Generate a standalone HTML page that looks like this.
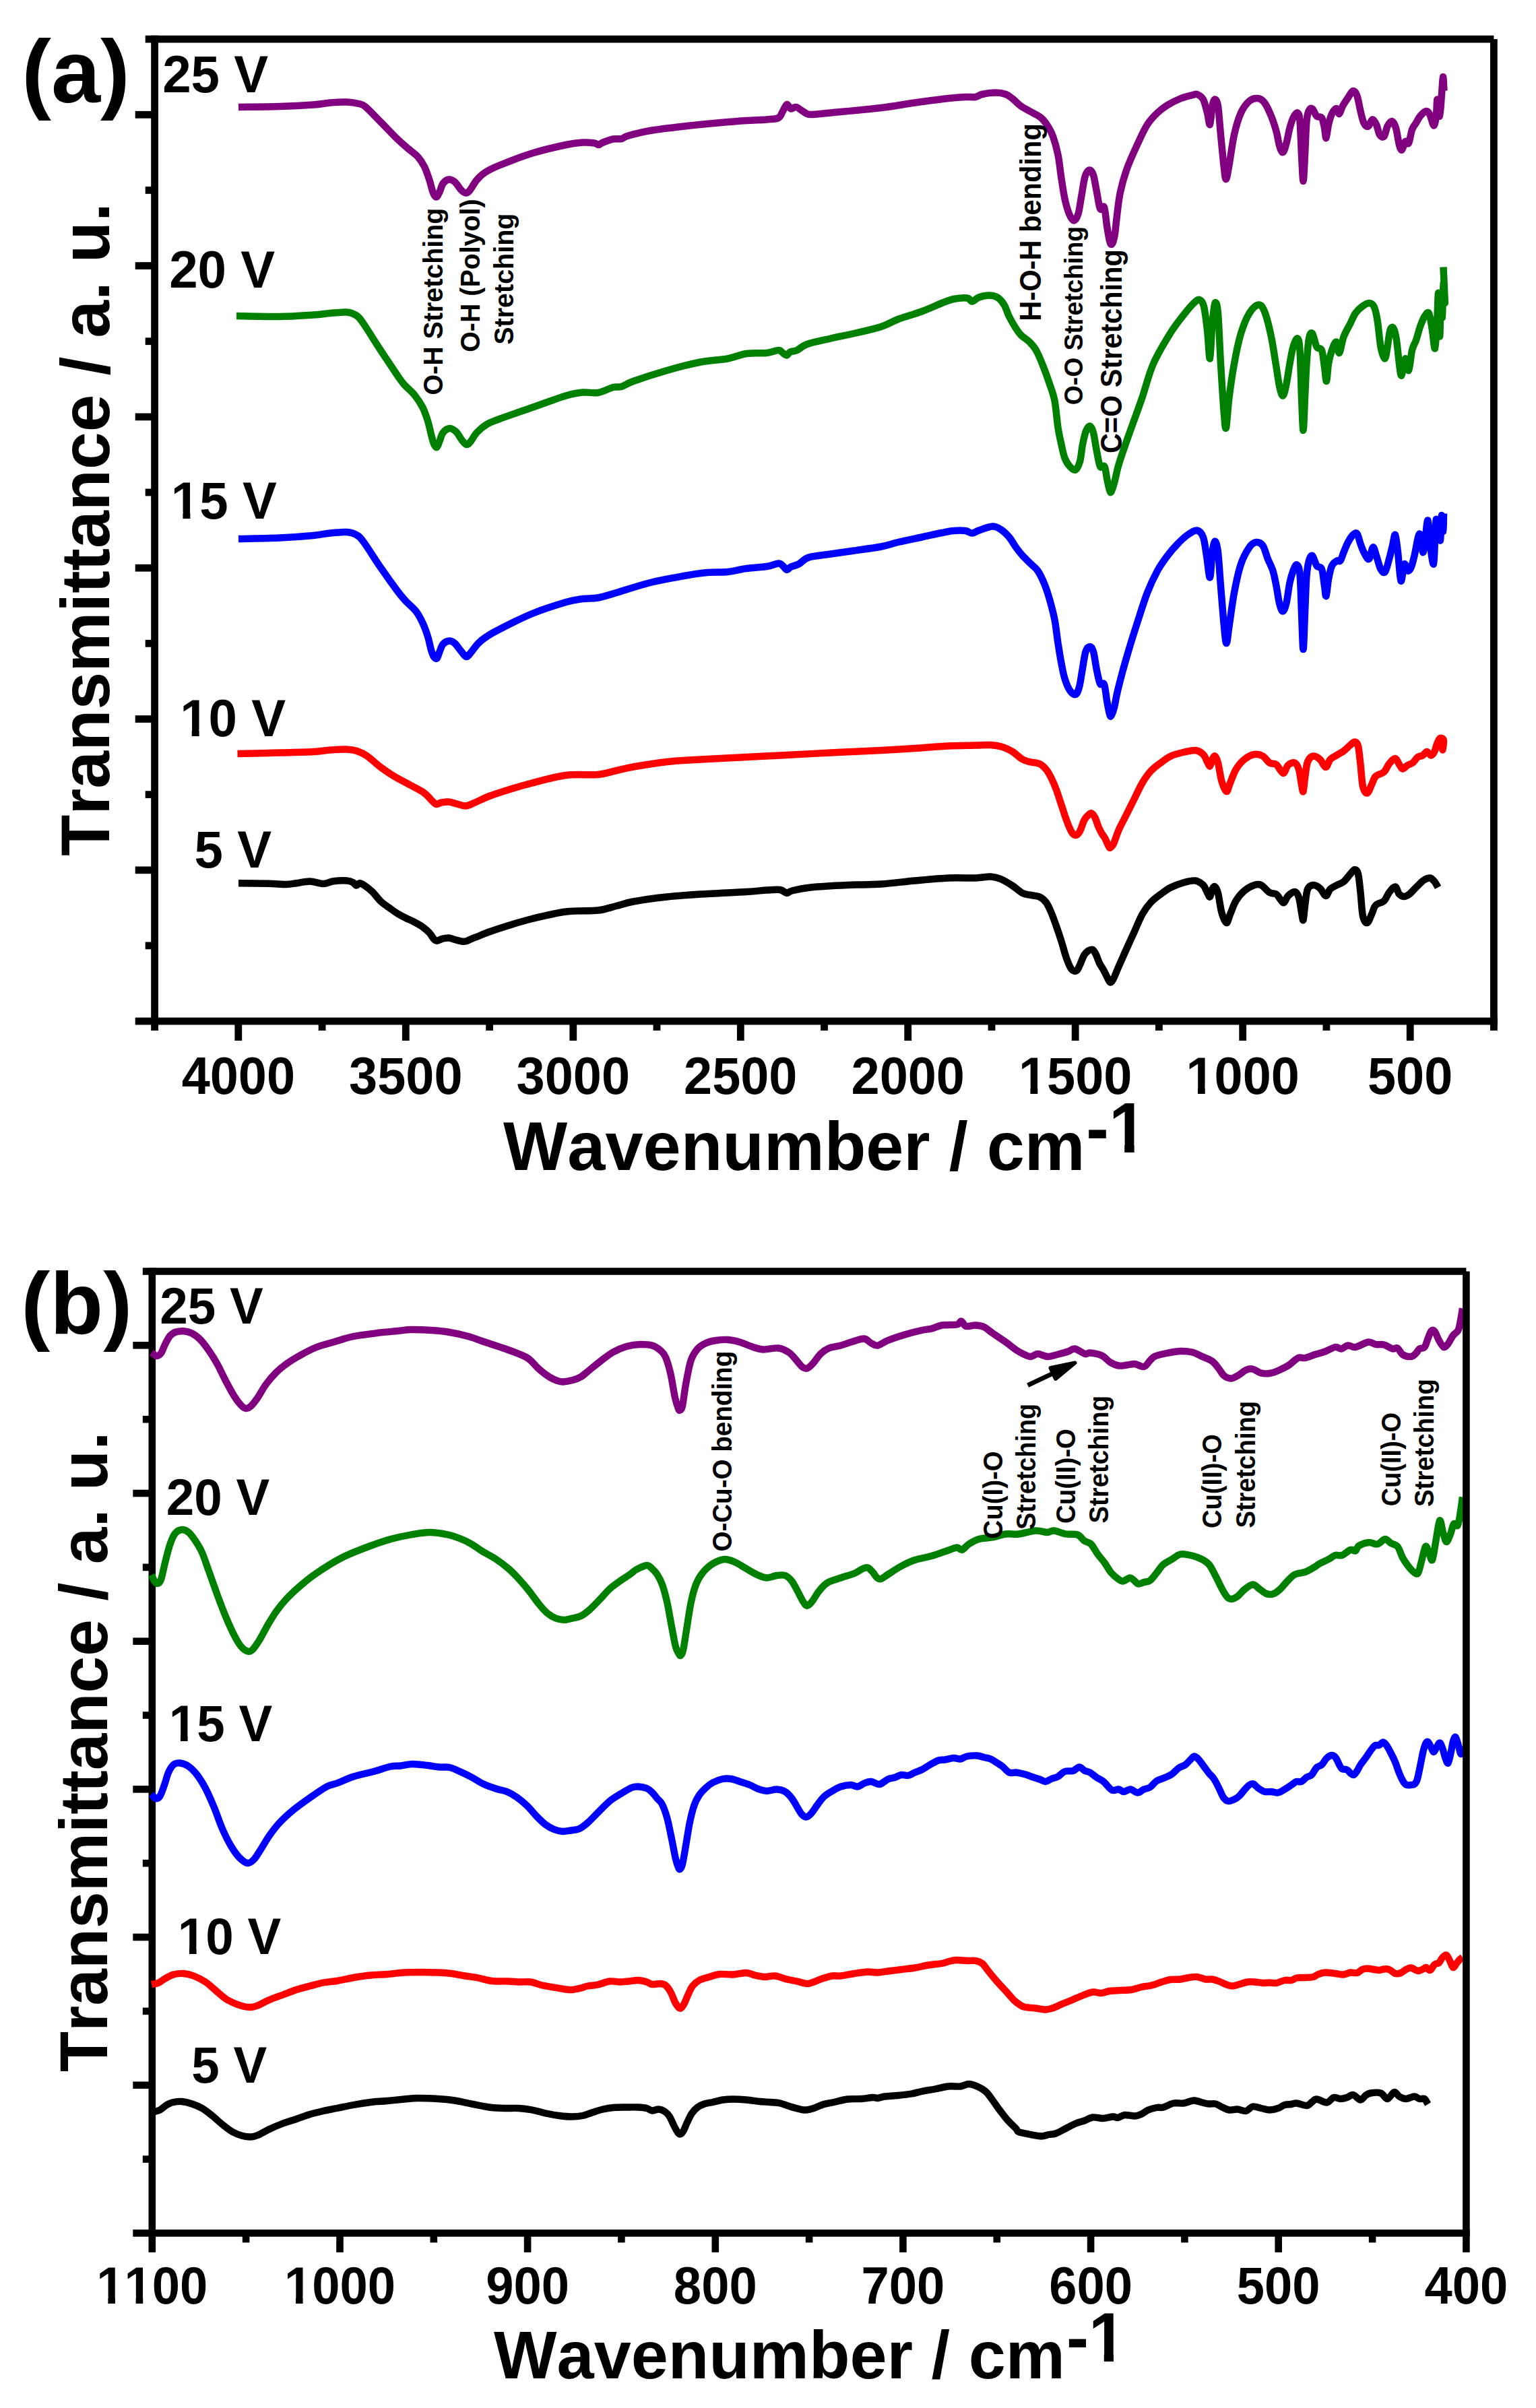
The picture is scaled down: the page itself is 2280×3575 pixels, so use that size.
<!DOCTYPE html>
<html lang="en"><head><meta charset="utf-8"><title>FTIR spectra</title>
<style>html,body{margin:0;padding:0;background:#fff}body{width:2280px;height:3575px;overflow:hidden}svg{display:block}text{white-space:pre;font-kerning:none}</style>
</head><body>
<svg width="2280" height="3575" viewBox="0 0 2280 3575">
<rect width="2280" height="3575" fill="#fff"/>
<g fill="#000">
<rect x="215.7" y="52.7" width="2001.7" height="10.8"/>
<rect x="200.7" y="1510.7" width="2022.1" height="10.8"/>
<rect x="224.2" y="52.7" width="10.8" height="1468.8"/>
<rect x="200.7" y="164.9" width="24.5" height="10.8"/>
<rect x="200.7" y="389.2" width="24.5" height="10.8"/>
<rect x="200.7" y="613.5" width="24.5" height="10.8"/>
<rect x="200.7" y="837.8" width="24.5" height="10.8"/>
<rect x="200.7" y="1062.1" width="24.5" height="10.8"/>
<rect x="200.7" y="1286.4" width="24.5" height="10.8"/>
<rect x="215.7" y="277.0" width="9.5" height="10.8"/>
<rect x="215.7" y="501.3" width="9.5" height="10.8"/>
<rect x="215.7" y="725.6" width="9.5" height="10.8"/>
<rect x="215.7" y="949.9" width="9.5" height="10.8"/>
<rect x="215.7" y="1174.2" width="9.5" height="10.8"/>
<rect x="215.7" y="1398.5" width="9.5" height="10.8"/>
<rect x="348.4" y="1516.1" width="10.8" height="28.9"/>
<rect x="596.9" y="1516.1" width="10.8" height="28.9"/>
<rect x="845.4" y="1516.1" width="10.8" height="28.9"/>
<rect x="1093.9" y="1516.1" width="10.8" height="28.9"/>
<rect x="1342.3" y="1516.1" width="10.8" height="28.9"/>
<rect x="1590.8" y="1516.1" width="10.8" height="28.9"/>
<rect x="1839.3" y="1516.1" width="10.8" height="28.9"/>
<rect x="2087.8" y="1516.1" width="10.8" height="28.9"/>
<rect x="224.2" y="1516.1" width="10.8" height="13.9"/>
<rect x="472.7" y="1516.1" width="10.8" height="13.9"/>
<rect x="721.2" y="1516.1" width="10.8" height="13.9"/>
<rect x="969.6" y="1516.1" width="10.8" height="13.9"/>
<rect x="1218.1" y="1516.1" width="10.8" height="13.9"/>
<rect x="1466.6" y="1516.1" width="10.8" height="13.9"/>
<rect x="1715.0" y="1516.1" width="10.8" height="13.9"/>
<rect x="1963.5" y="1516.1" width="10.8" height="13.9"/>
<rect x="2212.0" y="1516.1" width="10.8" height="13.9"/>
<rect x="2212.0" y="58.1" width="10.8" height="1463.4"/>
</g>
<path d="M354.0 1311.2C361.2 1311.3 385.7 1311.5 397.5 1311.8C409.3 1312.0 417.9 1313.1 425.0 1313.0C432.1 1312.9 434.2 1312.0 440.0 1311.2C445.8 1310.5 453.3 1308.4 460.0 1308.5C466.7 1308.6 474.2 1312.0 480.0 1312.0C485.8 1312.0 489.2 1309.0 495.0 1308.2C500.8 1307.5 510.2 1307.2 515.0 1307.5C519.8 1307.8 521.5 1308.8 523.8 1310.0C526.0 1311.2 527.1 1314.3 528.8 1314.5C530.4 1314.7 531.9 1311.4 533.8 1311.2C535.6 1311.1 536.9 1311.7 540.0 1313.8C543.1 1315.8 548.3 1319.7 552.5 1323.8C556.7 1327.8 560.8 1334.0 565.0 1338.0C569.2 1342.0 573.3 1344.5 577.5 1347.5C581.7 1350.5 585.8 1353.7 590.0 1356.2C594.2 1358.8 598.3 1360.9 602.5 1363.0C606.7 1365.1 610.8 1366.5 615.0 1368.8C619.2 1371.0 623.8 1373.5 627.5 1376.2C631.2 1379.0 634.8 1382.1 637.5 1385.0C640.2 1387.9 641.9 1391.8 643.8 1393.8C645.6 1395.7 646.7 1396.8 648.8 1396.8C650.8 1396.8 653.3 1394.5 656.2 1393.8C659.2 1393.0 663.1 1392.3 666.2 1392.5C669.4 1392.7 671.9 1394.2 675.0 1395.0C678.1 1395.8 682.3 1397.1 685.0 1397.5C687.7 1397.9 688.8 1398.1 691.2 1397.5C693.8 1396.9 696.9 1395.0 700.0 1393.8C703.1 1392.5 706.0 1391.6 710.0 1390.0C714.0 1388.4 716.5 1386.9 724.0 1384.2C731.5 1381.6 744.0 1377.4 755.0 1374.0C766.0 1370.6 775.8 1367.4 790.0 1364.0C804.2 1360.6 823.8 1355.6 840.0 1353.5C856.2 1351.4 875.0 1352.9 887.5 1351.5C900.0 1350.1 906.2 1347.2 915.0 1345.0C923.8 1342.8 927.5 1340.8 940.0 1338.5C952.5 1336.2 973.3 1333.3 990.0 1331.5C1006.7 1329.7 1020.3 1328.8 1040.0 1327.5C1059.7 1326.2 1091.7 1325.0 1108.0 1324.0C1124.3 1323.0 1129.7 1322.0 1138.0 1321.5C1146.3 1321.0 1153.0 1320.2 1158.0 1321.0C1163.0 1321.8 1165.1 1325.8 1168.0 1326.0C1170.9 1326.2 1169.7 1323.9 1175.5 1322.5C1181.3 1321.1 1189.2 1318.9 1203.0 1317.5C1216.8 1316.1 1240.5 1314.8 1258.0 1314.0C1275.5 1313.2 1291.3 1313.6 1308.0 1312.5C1324.7 1311.4 1341.3 1309.0 1358.0 1307.5C1374.7 1306.0 1393.0 1304.2 1408.0 1303.5C1423.0 1302.8 1437.6 1303.8 1448.0 1303.5C1458.4 1303.2 1464.2 1301.2 1470.5 1301.5C1476.8 1301.8 1480.1 1302.8 1485.5 1305.0C1490.9 1307.2 1497.6 1311.5 1503.0 1315.0C1508.4 1318.5 1513.4 1323.7 1518.0 1326.0C1522.6 1328.3 1526.3 1328.1 1530.5 1329.0C1534.7 1329.9 1539.2 1329.7 1543.0 1331.5C1546.8 1333.3 1550.1 1336.1 1553.0 1340.0C1555.9 1343.9 1558.0 1349.2 1560.5 1355.0C1563.0 1360.8 1565.5 1367.9 1568.0 1375.0C1570.5 1382.1 1573.0 1389.6 1575.5 1397.5C1578.0 1405.4 1580.5 1415.6 1583.0 1422.5C1585.5 1429.4 1588.0 1435.9 1590.5 1439.0C1593.0 1442.1 1595.9 1442.1 1598.0 1441.0C1600.1 1439.9 1601.1 1436.4 1603.0 1432.5C1604.9 1428.6 1607.4 1421.0 1609.5 1417.5C1611.6 1414.0 1613.4 1412.8 1615.5 1411.5C1617.6 1410.2 1620.1 1409.0 1622.0 1410.0C1623.9 1411.0 1625.3 1414.2 1627.0 1417.5C1628.7 1420.8 1630.2 1426.2 1632.0 1430.0C1633.8 1433.8 1636.2 1436.7 1638.0 1440.0C1639.8 1443.3 1641.3 1446.9 1643.0 1450.0C1644.7 1453.1 1646.3 1458.1 1648.0 1458.5C1649.7 1458.9 1650.9 1456.4 1653.0 1452.5C1655.1 1448.6 1657.6 1441.7 1660.5 1435.0C1663.4 1428.3 1666.8 1420.8 1670.5 1412.5C1674.2 1404.2 1678.8 1394.2 1683.0 1385.0C1687.2 1375.8 1691.3 1365.0 1695.5 1357.5C1699.7 1350.0 1703.4 1345.0 1708.0 1340.0C1712.6 1335.0 1718.0 1331.2 1723.0 1327.5C1728.0 1323.8 1732.2 1320.4 1738.0 1317.5C1743.8 1314.6 1751.9 1311.7 1758.0 1310.0C1764.1 1308.3 1769.8 1306.8 1774.5 1307.5C1779.2 1308.2 1783.1 1311.1 1786.0 1314.0C1788.9 1316.9 1790.3 1322.1 1792.0 1325.0C1793.7 1327.9 1794.8 1332.3 1796.0 1331.5C1797.2 1330.7 1798.2 1322.5 1799.5 1320.0C1800.8 1317.5 1802.1 1315.5 1803.5 1316.5C1804.9 1317.5 1806.3 1319.6 1808.0 1326.0C1809.7 1332.4 1811.4 1347.7 1813.5 1355.0C1815.6 1362.3 1818.4 1369.6 1820.5 1370.0C1822.6 1370.4 1823.7 1362.9 1826.0 1357.5C1828.3 1352.1 1831.0 1343.3 1834.5 1337.5C1838.0 1331.7 1842.4 1326.4 1847.0 1322.5C1851.6 1318.6 1857.8 1315.4 1862.0 1314.0C1866.2 1312.6 1868.2 1312.2 1872.0 1314.0C1875.8 1315.8 1880.8 1322.8 1884.5 1325.0C1888.2 1327.2 1891.8 1325.7 1894.5 1327.5C1897.2 1329.3 1899.1 1333.9 1901.0 1336.0C1902.9 1338.1 1904.2 1341.0 1906.0 1340.0C1907.8 1339.0 1909.3 1332.7 1912.0 1330.0C1914.7 1327.3 1919.3 1323.6 1922.0 1324.0C1924.7 1324.4 1926.3 1327.3 1928.0 1332.5C1929.7 1337.7 1930.9 1349.4 1932.0 1355.0C1933.1 1360.6 1933.7 1367.7 1934.5 1366.0C1935.3 1364.3 1935.9 1352.7 1937.0 1345.0C1938.1 1337.3 1938.9 1325.2 1941.0 1320.0C1943.1 1314.8 1946.4 1314.2 1949.5 1314.0C1952.6 1313.8 1956.4 1316.3 1959.5 1319.0C1962.6 1321.7 1965.5 1329.8 1968.0 1330.0C1970.5 1330.2 1971.8 1322.7 1974.5 1320.0C1977.2 1317.3 1981.2 1315.8 1984.5 1314.0C1987.8 1312.2 1991.2 1311.8 1994.5 1309.0C1997.8 1306.2 2001.8 1300.5 2004.5 1297.5C2007.2 1294.5 2009.1 1291.0 2011.0 1291.0C2012.9 1291.0 2014.6 1291.8 2016.0 1297.5C2017.4 1303.2 2018.3 1314.6 2019.5 1325.0C2020.7 1335.4 2021.3 1352.5 2023.0 1360.0C2024.7 1367.5 2027.3 1370.4 2029.5 1370.0C2031.7 1369.6 2033.9 1361.8 2036.0 1357.5C2038.1 1353.2 2038.9 1347.3 2042.0 1344.0C2045.1 1340.7 2051.2 1340.7 2054.5 1337.5C2057.8 1334.3 2059.2 1328.5 2062.0 1325.0C2064.8 1321.5 2068.5 1316.1 2071.0 1316.5C2073.5 1316.9 2074.8 1325.1 2077.0 1327.5C2079.2 1329.9 2082.0 1331.0 2084.5 1331.0C2087.0 1331.0 2089.5 1329.3 2092.0 1327.5C2094.5 1325.7 2097.0 1322.5 2099.5 1320.0C2102.0 1317.5 2104.5 1314.8 2107.0 1312.5C2109.5 1310.2 2111.8 1307.5 2114.5 1306.0C2117.2 1304.5 2120.5 1303.0 2123.0 1303.5C2125.5 1304.0 2127.6 1306.7 2129.5 1309.0C2131.4 1311.3 2133.7 1316.1 2134.5 1317.5" fill="none" stroke="#000000" stroke-width="10.5" stroke-linejoin="round" stroke-linecap="butt"/>
<path d="M352.5 1119.0C362.9 1118.8 396.2 1118.0 415.0 1117.5C433.8 1117.0 452.5 1116.7 465.0 1116.0C477.5 1115.3 481.7 1114.1 490.0 1113.5C498.3 1112.9 508.3 1112.2 515.0 1112.5C521.7 1112.8 525.0 1113.3 530.0 1115.0C535.0 1116.7 539.2 1118.5 545.0 1122.5C550.8 1126.5 558.3 1134.0 565.0 1139.0C571.7 1144.0 577.5 1148.0 585.0 1152.5C592.5 1157.0 602.5 1161.8 610.0 1166.0C617.5 1170.2 625.0 1173.9 630.0 1177.5C635.0 1181.1 637.1 1184.8 640.0 1187.5C642.9 1190.2 645.0 1193.3 647.5 1194.0C650.0 1194.7 651.9 1192.1 655.0 1191.5C658.1 1190.9 661.8 1190.1 666.0 1190.5C670.2 1190.9 675.8 1193.0 680.0 1194.0C684.2 1195.0 687.3 1196.9 691.5 1196.5C695.7 1196.1 699.4 1193.8 705.0 1191.5C710.6 1189.2 716.7 1185.7 725.0 1182.5C733.3 1179.3 744.2 1175.8 755.0 1172.5C765.8 1169.2 775.8 1166.1 790.0 1162.5C804.2 1158.9 823.8 1153.1 840.0 1151.0C856.2 1148.9 875.0 1151.2 887.5 1150.0C900.0 1148.8 906.2 1145.9 915.0 1144.0C923.8 1142.1 927.5 1140.7 940.0 1138.5C952.5 1136.3 973.3 1132.8 990.0 1131.0C1006.7 1129.2 1020.3 1128.7 1040.0 1127.5C1059.7 1126.3 1088.3 1125.0 1108.0 1124.0C1127.7 1123.0 1137.2 1122.6 1158.0 1121.5C1178.8 1120.4 1208.0 1118.8 1233.0 1117.5C1258.0 1116.2 1287.2 1115.1 1308.0 1114.0C1328.8 1112.9 1341.3 1112.1 1358.0 1111.0C1374.7 1109.9 1393.0 1108.2 1408.0 1107.5C1423.0 1106.8 1437.6 1106.8 1448.0 1106.5C1458.4 1106.2 1463.8 1105.6 1470.5 1106.0C1477.2 1106.4 1482.6 1107.3 1488.0 1109.0C1493.4 1110.7 1498.0 1112.9 1503.0 1116.0C1508.0 1119.1 1513.4 1124.9 1518.0 1127.5C1522.6 1130.1 1526.3 1130.4 1530.5 1131.5C1534.7 1132.6 1539.2 1132.2 1543.0 1134.0C1546.8 1135.8 1550.1 1139.0 1553.0 1142.5C1555.9 1146.0 1558.0 1150.0 1560.5 1155.0C1563.0 1160.0 1565.5 1165.8 1568.0 1172.5C1570.5 1179.2 1573.0 1187.5 1575.5 1195.0C1578.0 1202.5 1580.5 1210.8 1583.0 1217.5C1585.5 1224.2 1588.2 1231.2 1590.5 1235.0C1592.8 1238.8 1594.9 1240.2 1597.0 1240.0C1599.1 1239.8 1600.9 1237.8 1603.0 1234.0C1605.1 1230.2 1607.4 1221.5 1609.5 1217.5C1611.6 1213.5 1613.7 1211.7 1615.5 1210.0C1617.3 1208.3 1618.8 1206.8 1620.5 1207.5C1622.2 1208.2 1623.8 1210.7 1625.5 1214.0C1627.2 1217.3 1628.8 1223.6 1630.5 1227.5C1632.2 1231.4 1633.8 1234.6 1635.5 1237.5C1637.2 1240.4 1638.8 1241.9 1640.5 1245.0C1642.2 1248.1 1644.2 1253.8 1645.5 1256.0C1646.8 1258.2 1646.8 1259.1 1648.0 1258.5C1649.2 1257.9 1650.9 1256.8 1653.0 1252.5C1655.1 1248.2 1657.6 1239.2 1660.5 1232.5C1663.4 1225.8 1666.8 1220.0 1670.5 1212.5C1674.2 1205.0 1678.8 1195.8 1683.0 1187.5C1687.2 1179.2 1691.3 1169.6 1695.5 1162.5C1699.7 1155.4 1703.4 1150.0 1708.0 1145.0C1712.6 1140.0 1718.0 1136.2 1723.0 1132.5C1728.0 1128.8 1732.2 1125.2 1738.0 1122.5C1743.8 1119.8 1751.9 1117.9 1758.0 1116.5C1764.1 1115.1 1769.8 1113.4 1774.5 1114.0C1779.2 1114.6 1783.1 1117.2 1786.0 1120.0C1788.9 1122.8 1790.3 1128.1 1792.0 1131.0C1793.7 1133.9 1794.8 1138.1 1796.0 1137.5C1797.2 1136.9 1798.2 1130.0 1799.5 1127.5C1800.8 1125.0 1802.1 1121.7 1803.5 1122.5C1804.9 1123.3 1806.3 1126.2 1808.0 1132.5C1809.7 1138.8 1811.4 1152.9 1813.5 1160.0C1815.6 1167.1 1818.4 1174.6 1820.5 1175.0C1822.6 1175.4 1823.7 1167.9 1826.0 1162.5C1828.3 1157.1 1831.0 1148.3 1834.5 1142.5C1838.0 1136.7 1842.4 1131.2 1847.0 1127.5C1851.6 1123.8 1857.4 1120.8 1862.0 1120.0C1866.6 1119.2 1870.8 1120.4 1874.5 1122.5C1878.2 1124.6 1881.2 1130.4 1884.5 1132.5C1887.8 1134.6 1891.8 1133.1 1894.5 1135.0C1897.2 1136.9 1899.1 1141.9 1901.0 1144.0C1902.9 1146.1 1904.2 1148.8 1906.0 1147.5C1907.8 1146.2 1909.3 1138.5 1912.0 1136.0C1914.7 1133.5 1919.3 1131.4 1922.0 1132.5C1924.7 1133.6 1926.3 1137.1 1928.0 1142.5C1929.7 1147.9 1930.9 1159.6 1932.0 1165.0C1933.1 1170.4 1933.7 1176.7 1934.5 1175.0C1935.3 1173.3 1935.9 1162.3 1937.0 1155.0C1938.1 1147.7 1938.9 1136.4 1941.0 1131.0C1943.1 1125.6 1946.4 1123.1 1949.5 1122.5C1952.6 1121.9 1956.4 1124.8 1959.5 1127.5C1962.6 1130.2 1965.5 1139.0 1968.0 1139.0C1970.5 1139.0 1971.8 1130.5 1974.5 1127.5C1977.2 1124.5 1981.2 1123.1 1984.5 1121.0C1987.8 1118.9 1991.2 1117.5 1994.5 1115.0C1997.8 1112.5 2001.8 1108.2 2004.5 1106.0C2007.2 1103.8 2009.1 1101.2 2011.0 1101.5C2012.9 1101.8 2014.6 1101.9 2016.0 1107.5C2017.4 1113.1 2018.3 1125.0 2019.5 1135.0C2020.7 1145.0 2021.3 1160.4 2023.0 1167.5C2024.7 1174.6 2027.3 1177.9 2029.5 1177.5C2031.7 1177.1 2033.9 1169.2 2036.0 1165.0C2038.1 1160.8 2038.9 1155.7 2042.0 1152.5C2045.1 1149.3 2051.2 1149.1 2054.5 1146.0C2057.8 1142.9 2059.2 1137.3 2062.0 1134.0C2064.8 1130.7 2068.5 1125.8 2071.0 1126.0C2073.5 1126.2 2075.2 1132.4 2077.0 1135.0C2078.8 1137.6 2079.9 1141.3 2082.0 1141.5C2084.1 1141.7 2087.0 1137.5 2089.5 1136.0C2092.0 1134.5 2094.5 1134.5 2097.0 1132.5C2099.5 1130.5 2102.0 1125.8 2104.5 1124.0C2107.0 1122.2 2109.8 1122.8 2112.0 1121.5C2114.2 1120.2 2115.9 1116.0 2118.0 1116.0C2120.1 1116.0 2122.6 1121.6 2124.5 1121.5C2126.4 1121.4 2128.1 1118.3 2129.5 1115.5C2130.9 1112.7 2131.6 1107.8 2133.0 1104.5C2134.4 1101.2 2136.0 1096.9 2137.7 1096.0C2139.3 1095.1 2142.3 1096.3 2142.9 1099.2C2143.5 1102.1 2141.5 1112.0 2141.4 1113.2C2141.3 1114.4 2142.2 1107.6 2142.4 1106.5" fill="none" stroke="#ff0000" stroke-width="10.5" stroke-linejoin="round" stroke-linecap="butt"/>
<path d="M354.0 800.0C364.2 799.8 396.5 799.3 415.0 798.5C433.5 797.7 452.5 796.2 465.0 795.0C477.5 793.8 481.7 792.3 490.0 791.5C498.3 790.7 508.5 789.6 515.0 790.0C521.5 790.4 524.8 791.5 529.0 794.0C533.2 796.5 534.0 796.9 540.0 805.0C546.0 813.1 556.7 830.4 565.0 842.5C573.3 854.6 583.8 869.2 590.0 877.5C596.2 885.8 597.9 887.5 602.5 892.5C607.1 897.5 613.3 902.1 617.5 907.5C621.7 912.9 624.6 918.8 627.5 925.0C630.4 931.2 632.9 938.3 635.0 945.0C637.1 951.7 638.5 960.0 640.0 965.0C641.5 970.0 642.6 972.9 644.0 975.0C645.4 977.1 647.1 978.8 648.5 977.5C649.9 976.2 651.0 971.0 652.5 967.5C654.0 964.0 655.2 959.2 657.5 956.5C659.8 953.8 663.6 951.8 666.5 951.5C669.4 951.2 671.9 952.3 675.0 955.0C678.1 957.7 682.1 964.2 685.0 967.5C687.9 970.8 690.0 975.0 692.5 975.0C695.0 975.0 697.1 970.8 700.0 967.5C702.9 964.2 706.2 958.8 710.0 955.0C713.8 951.2 717.5 948.3 722.5 945.0C727.5 941.7 728.8 940.7 740.0 935.0C751.2 929.3 773.3 917.8 790.0 911.0C806.7 904.2 827.5 897.7 840.0 894.0C852.5 890.3 857.1 890.1 865.0 889.0C872.9 887.9 879.2 889.0 887.5 887.5C895.8 886.0 902.1 883.8 915.0 880.0C927.9 876.2 948.3 869.2 965.0 865.0C981.7 860.8 1000.8 857.5 1015.0 855.0C1029.2 852.5 1039.2 851.0 1050.0 850.0C1060.8 849.0 1070.3 850.0 1080.0 849.0C1089.7 848.0 1098.3 845.3 1108.0 844.0C1117.7 842.7 1130.1 842.2 1138.0 841.0C1145.9 839.8 1151.5 836.7 1155.5 836.5C1159.5 836.3 1159.9 838.4 1162.0 840.0C1164.1 841.6 1166.0 845.8 1168.0 846.0C1170.0 846.2 1171.1 842.9 1174.0 841.5C1176.9 840.1 1181.1 839.8 1185.5 837.5C1189.9 835.2 1192.6 830.0 1200.5 827.5C1208.4 825.0 1221.8 824.2 1233.0 822.5C1244.2 820.8 1255.5 819.3 1268.0 817.5C1280.5 815.7 1297.2 813.6 1308.0 811.5C1318.8 809.4 1323.0 807.3 1333.0 805.0C1343.0 802.7 1357.2 799.8 1368.0 797.5C1378.8 795.2 1390.1 792.6 1398.0 791.0C1405.9 789.4 1409.7 788.5 1415.5 788.0C1421.3 787.5 1428.4 787.4 1433.0 788.0C1437.6 788.6 1439.7 791.6 1443.0 791.5C1446.3 791.4 1448.0 789.2 1453.0 787.5C1458.0 785.8 1467.6 781.8 1473.0 781.5C1478.4 781.2 1481.3 783.3 1485.5 786.0C1489.7 788.7 1494.2 793.1 1498.0 797.5C1501.8 801.9 1504.7 807.9 1508.0 812.5C1511.3 817.1 1514.2 820.8 1518.0 825.0C1521.8 829.2 1526.8 833.8 1530.5 837.5C1534.2 841.2 1537.2 842.5 1540.5 847.5C1543.8 852.5 1547.6 860.4 1550.5 867.5C1553.4 874.6 1555.5 881.2 1558.0 890.0C1560.5 898.8 1563.4 909.2 1565.5 920.0C1567.6 930.8 1568.8 944.2 1570.5 955.0C1572.2 965.8 1573.8 976.2 1575.5 985.0C1577.2 993.8 1578.4 1000.8 1580.5 1007.5C1582.6 1014.2 1585.3 1021.1 1588.0 1025.0C1590.7 1028.9 1594.2 1031.8 1596.5 1031.0C1598.8 1030.2 1600.3 1026.0 1602.0 1020.0C1603.7 1014.0 1604.9 1003.8 1606.5 995.0C1608.1 986.2 1609.6 973.3 1611.5 967.5C1613.4 961.7 1616.1 960.0 1618.0 960.0C1619.9 960.0 1621.3 961.7 1623.0 967.5C1624.7 973.3 1626.3 987.1 1628.0 995.0C1629.7 1002.9 1631.2 1011.5 1633.0 1015.0C1634.8 1018.5 1637.3 1011.8 1639.0 1016.0C1640.7 1020.2 1641.7 1032.7 1643.0 1040.0C1644.3 1047.3 1645.9 1056.2 1647.0 1060.0C1648.1 1063.8 1648.3 1064.2 1649.5 1062.5C1650.7 1060.8 1652.6 1055.4 1654.0 1050.0C1655.4 1044.6 1656.1 1038.3 1658.0 1030.0C1659.9 1021.7 1662.6 1010.8 1665.5 1000.0C1668.4 989.2 1671.8 977.5 1675.5 965.0C1679.2 952.5 1683.4 939.2 1688.0 925.0C1692.6 910.8 1698.0 892.9 1703.0 880.0C1708.0 867.1 1713.0 856.7 1718.0 847.5C1723.0 838.3 1728.0 831.7 1733.0 825.0C1738.0 818.3 1743.0 812.7 1748.0 807.5C1753.0 802.3 1758.2 797.3 1763.0 794.0C1767.8 790.7 1773.2 786.9 1777.0 787.5C1780.8 788.1 1783.7 791.2 1786.0 797.5C1788.3 803.8 1789.3 815.0 1791.0 825.0C1792.7 835.0 1794.6 858.3 1796.0 857.5C1797.4 856.7 1798.2 829.0 1799.5 820.0C1800.8 811.0 1802.1 803.5 1803.5 803.5C1804.9 803.5 1806.6 808.9 1808.0 820.0C1809.4 831.1 1810.5 851.7 1812.0 870.0C1813.5 888.3 1815.6 915.8 1817.0 930.0C1818.4 944.2 1819.2 955.0 1820.5 955.0C1821.8 955.0 1822.6 942.5 1824.5 930.0C1826.4 917.5 1829.1 895.4 1832.0 880.0C1834.9 864.6 1838.2 848.8 1842.0 837.5C1845.8 826.2 1850.8 817.9 1854.5 812.5C1858.2 807.1 1861.2 805.4 1864.5 805.0C1867.8 804.6 1871.6 805.8 1874.5 810.0C1877.4 814.2 1879.5 823.8 1882.0 830.0C1884.5 836.2 1887.4 840.8 1889.5 847.5C1891.6 854.2 1892.8 861.7 1894.5 870.0C1896.2 878.3 1897.8 891.2 1899.5 897.5C1901.2 903.8 1902.8 907.9 1904.5 907.5C1906.2 907.1 1907.8 902.1 1909.5 895.0C1911.2 887.9 1912.8 872.9 1914.5 865.0C1916.2 857.1 1917.8 851.9 1919.5 847.5C1921.2 843.1 1923.3 837.7 1925.0 838.5C1926.7 839.3 1928.3 840.6 1929.5 852.5C1930.7 864.4 1931.2 891.4 1932.0 910.0C1932.8 928.6 1933.7 964.0 1934.5 964.0C1935.3 964.0 1936.2 928.2 1937.0 910.0C1937.8 891.8 1938.5 867.9 1939.5 855.0C1940.5 842.1 1941.6 837.5 1943.0 832.5C1944.4 827.5 1946.1 823.8 1948.0 825.0C1949.9 826.2 1952.2 836.7 1954.5 840.0C1956.8 843.3 1960.1 840.0 1962.0 845.0C1963.9 850.0 1964.9 863.3 1966.0 870.0C1967.1 876.7 1967.5 886.7 1968.5 885.0C1969.5 883.3 1970.6 867.5 1972.0 860.0C1973.4 852.5 1974.9 844.6 1977.0 840.0C1979.1 835.4 1982.4 833.8 1984.5 832.5C1986.6 831.2 1987.8 834.6 1989.5 832.5C1991.2 830.4 1992.6 824.6 1994.5 820.0C1996.4 815.4 1998.7 809.3 2001.0 805.0C2003.3 800.7 2006.2 796.1 2008.5 794.0C2010.8 791.9 2012.7 790.2 2014.5 792.5C2016.3 794.8 2017.8 802.9 2019.5 807.5C2021.2 812.1 2022.4 816.2 2024.5 820.0C2026.6 823.8 2029.8 831.2 2032.0 830.0C2034.2 828.8 2036.2 813.3 2038.0 812.5C2039.8 811.7 2041.1 819.6 2043.0 825.0C2044.9 830.4 2047.3 841.0 2049.5 845.0C2051.7 849.0 2053.9 851.5 2056.0 849.0C2058.1 846.5 2060.2 836.5 2062.0 830.0C2063.8 823.5 2065.5 816.0 2067.0 810.0C2068.5 804.0 2069.7 792.3 2071.0 794.0C2072.3 795.7 2073.6 808.6 2075.0 820.0C2076.4 831.4 2077.9 859.6 2079.5 862.5C2081.1 865.4 2082.8 840.0 2084.5 837.5C2086.2 835.0 2087.8 846.7 2089.5 847.5C2091.2 848.3 2092.8 846.2 2094.5 842.5C2096.2 838.8 2097.4 833.3 2099.5 825.0C2101.6 816.7 2104.9 793.3 2107.0 792.5C2109.1 791.7 2110.6 818.8 2112.0 820.0C2113.4 821.2 2114.2 807.9 2115.5 800.0C2116.8 792.1 2118.2 770.8 2119.5 772.5C2120.8 774.2 2121.6 799.2 2123.0 810.0C2124.4 820.8 2126.8 839.2 2128.0 837.5C2129.2 835.8 2129.4 811.1 2130.0 800.0C2130.6 788.9 2130.9 773.1 2131.8 771.0C2132.6 768.9 2134.0 782.2 2135.0 787.5C2136.0 792.8 2137.3 803.8 2138.0 802.5C2138.7 801.2 2138.7 786.2 2139.0 780.0C2139.3 773.8 2139.4 765.4 2139.8 765.0C2140.1 764.6 2140.8 773.5 2141.2 777.5C2141.7 781.5 2142.0 789.4 2142.2 789.0C2142.5 788.6 2142.6 779.4 2142.8 775.0C2142.9 770.6 2143.0 764.6 2143.0 762.5" fill="none" stroke="#0000ff" stroke-width="10.5" stroke-linejoin="round" stroke-linecap="butt"/>
<path d="M351.0 469.0C361.7 469.2 396.0 470.2 415.0 470.0C434.0 469.8 452.5 468.3 465.0 467.5C477.5 466.7 481.7 465.7 490.0 465.0C498.3 464.3 508.8 463.1 515.0 463.5C521.2 463.9 523.8 465.2 527.5 467.5C531.2 469.8 531.2 468.8 537.5 477.5C543.8 486.2 556.2 506.7 565.0 520.0C573.8 533.3 584.2 549.0 590.0 557.5C595.8 566.0 595.8 566.2 600.0 571.0C604.2 575.8 610.4 580.3 615.0 586.0C619.6 591.7 624.2 598.5 627.5 605.0C630.8 611.5 632.9 618.3 635.0 625.0C637.1 631.7 638.5 639.3 640.0 645.0C641.5 650.7 642.6 655.8 644.0 659.0C645.4 662.2 647.1 664.7 648.5 664.0C649.9 663.3 651.0 658.6 652.5 655.0C654.0 651.4 655.0 645.7 657.5 642.5C660.0 639.3 664.2 636.2 667.5 636.0C670.8 635.8 674.6 638.8 677.5 641.5C680.4 644.2 682.5 649.4 685.0 652.5C687.5 655.6 690.2 659.6 692.5 660.0C694.8 660.4 696.5 657.9 699.0 655.0C701.5 652.1 703.6 646.7 707.5 642.5C711.4 638.3 717.1 633.3 722.5 630.0C727.9 626.7 728.8 626.7 740.0 622.5C751.2 618.3 773.3 610.8 790.0 605.0C806.7 599.2 827.5 591.2 840.0 587.5C852.5 583.8 857.1 583.2 865.0 582.5C872.9 581.8 880.0 584.2 887.5 583.0C895.0 581.8 904.2 576.5 910.0 575.0C915.8 573.5 917.5 575.5 922.5 574.0C927.5 572.5 928.8 570.0 940.0 566.0C951.2 562.0 973.3 554.8 990.0 550.0C1006.7 545.2 1025.0 540.4 1040.0 537.5C1055.0 534.6 1068.7 534.6 1080.0 532.5C1091.3 530.4 1098.3 526.4 1108.0 525.0C1117.7 523.6 1130.1 524.8 1138.0 524.0C1145.9 523.2 1151.5 520.0 1155.5 520.0C1159.5 520.0 1159.9 522.8 1162.0 524.0C1164.1 525.2 1166.2 527.8 1168.0 527.5C1169.8 527.2 1170.5 523.8 1173.0 522.5C1175.5 521.2 1178.8 521.9 1183.0 520.0C1187.2 518.1 1189.7 513.9 1198.0 511.0C1206.3 508.1 1221.3 505.2 1233.0 502.5C1244.7 499.8 1255.5 497.9 1268.0 495.0C1280.5 492.1 1297.2 488.5 1308.0 485.0C1318.8 481.5 1323.0 477.8 1333.0 474.0C1343.0 470.2 1357.2 466.5 1368.0 462.5C1378.8 458.5 1390.1 453.1 1398.0 450.0C1405.9 446.9 1409.2 445.2 1415.5 444.0C1421.8 442.8 1430.9 441.9 1435.5 442.5C1440.1 443.1 1440.1 447.7 1443.0 447.5C1445.9 447.3 1448.8 443.0 1453.0 441.5C1457.2 440.0 1463.4 438.5 1468.0 438.5C1472.6 438.5 1476.8 439.2 1480.5 441.5C1484.2 443.8 1487.6 447.8 1490.5 452.5C1493.4 457.2 1495.1 464.2 1498.0 470.0C1500.9 475.8 1505.1 482.9 1508.0 487.5C1510.9 492.1 1512.2 494.2 1515.5 497.5C1518.8 500.8 1524.2 503.8 1528.0 507.5C1531.8 511.2 1534.7 514.2 1538.0 520.0C1541.3 525.8 1544.7 534.2 1548.0 542.5C1551.3 550.8 1555.1 561.2 1558.0 570.0C1560.9 578.8 1563.4 584.2 1565.5 595.0C1567.6 605.8 1568.8 624.2 1570.5 635.0C1572.2 645.8 1573.8 652.5 1575.5 660.0C1577.2 667.5 1578.4 674.6 1580.5 680.0C1582.6 685.4 1585.3 689.6 1588.0 692.5C1590.7 695.4 1594.0 698.8 1596.5 697.5C1599.0 696.2 1601.2 691.2 1603.0 685.0C1604.8 678.8 1605.5 667.5 1607.0 660.0C1608.5 652.5 1610.2 644.6 1612.0 640.0C1613.8 635.4 1616.2 632.1 1618.0 632.5C1619.8 632.9 1621.3 636.2 1623.0 642.5C1624.7 648.8 1626.3 661.7 1628.0 670.0C1629.7 678.3 1631.1 688.8 1633.0 692.5C1634.9 696.2 1637.8 689.6 1639.5 692.5C1641.2 695.4 1641.8 704.2 1643.0 710.0C1644.2 715.8 1645.9 724.2 1647.0 727.5C1648.1 730.8 1648.2 732.1 1649.5 730.0C1650.8 727.9 1652.7 721.7 1654.5 715.0C1656.3 708.3 1657.8 699.2 1660.5 690.0C1663.2 680.8 1666.8 670.8 1670.5 660.0C1674.2 649.2 1678.8 636.7 1683.0 625.0C1687.2 613.3 1690.7 604.2 1695.5 590.0C1700.3 575.8 1705.1 555.8 1712.0 540.0C1718.9 524.2 1729.5 507.1 1737.0 495.0C1744.5 482.9 1751.2 475.0 1757.0 467.5C1762.8 460.0 1768.1 453.8 1772.0 450.0C1775.9 446.2 1778.0 444.2 1780.5 445.0C1783.0 445.8 1785.1 447.5 1787.0 455.0C1788.9 462.5 1790.5 477.1 1792.0 490.0C1793.5 502.9 1794.8 534.2 1796.0 532.5C1797.2 530.8 1798.2 493.8 1799.5 480.0C1800.8 466.2 1802.1 452.5 1803.5 450.0C1804.9 447.5 1806.6 450.0 1808.0 465.0C1809.4 480.0 1810.5 515.0 1812.0 540.0C1813.5 565.0 1815.7 599.2 1817.0 615.0C1818.3 630.8 1818.8 639.2 1820.0 635.0C1821.2 630.8 1822.5 605.8 1824.5 590.0C1826.5 574.2 1829.1 555.8 1832.0 540.0C1834.9 524.2 1838.2 507.5 1842.0 495.0C1845.8 482.5 1850.2 472.1 1854.5 465.0C1858.8 457.9 1864.2 452.9 1868.0 452.5C1871.8 452.1 1873.8 454.6 1877.0 462.5C1880.2 470.4 1884.1 486.2 1887.0 500.0C1889.9 513.8 1892.4 532.5 1894.5 545.0C1896.6 557.5 1897.8 567.9 1899.5 575.0C1901.2 582.1 1902.8 588.3 1904.5 587.5C1906.2 586.7 1907.8 577.9 1909.5 570.0C1911.2 562.1 1912.8 549.2 1914.5 540.0C1916.2 530.8 1917.6 521.2 1919.5 515.0C1921.4 508.8 1924.3 501.7 1926.0 502.5C1927.7 503.3 1928.5 505.4 1929.5 520.0C1930.5 534.6 1931.2 570.2 1932.0 590.0C1932.8 609.8 1933.7 639.0 1934.5 639.0C1935.3 639.0 1936.2 606.5 1937.0 590.0C1937.8 573.5 1938.5 554.6 1939.5 540.0C1940.5 525.4 1941.6 510.0 1943.0 502.5C1944.4 495.0 1946.1 492.9 1948.0 495.0C1949.9 497.1 1952.2 510.8 1954.5 515.0C1956.8 519.2 1960.1 515.0 1962.0 520.0C1963.9 525.0 1964.8 537.3 1966.0 545.0C1967.2 552.7 1968.0 566.8 1969.0 566.0C1970.0 565.2 1970.7 547.7 1972.0 540.0C1973.3 532.3 1975.1 525.4 1977.0 520.0C1978.9 514.6 1981.7 506.8 1983.5 507.5C1985.3 508.2 1986.2 525.2 1988.0 524.0C1989.8 522.8 1991.8 507.3 1994.5 500.0C1997.2 492.7 2001.6 485.8 2004.5 480.0C2007.4 474.2 2009.1 469.2 2012.0 465.0C2014.9 460.8 2018.7 457.5 2022.0 455.0C2025.3 452.5 2029.1 450.0 2032.0 450.0C2034.9 450.0 2037.4 450.8 2039.5 455.0C2041.6 459.2 2042.8 465.0 2044.5 475.0C2046.2 485.0 2047.7 505.4 2049.5 515.0C2051.3 524.6 2053.8 532.5 2055.5 532.5C2057.2 532.5 2058.2 522.1 2059.5 515.0C2060.8 507.9 2062.0 494.6 2063.5 490.0C2065.0 485.4 2066.9 485.0 2068.5 487.5C2070.1 490.0 2071.6 496.2 2073.0 505.0C2074.4 513.8 2075.8 531.2 2077.0 540.0C2078.2 548.8 2079.0 558.8 2080.5 557.5C2082.0 556.2 2084.2 533.8 2086.0 532.5C2087.8 531.2 2089.3 552.1 2091.0 550.0C2092.7 547.9 2094.2 527.5 2096.0 520.0C2097.8 512.5 2100.0 510.8 2102.0 505.0C2104.0 499.2 2105.9 490.8 2108.0 485.0C2110.1 479.2 2112.3 473.3 2114.5 470.0C2116.7 466.7 2119.1 461.7 2121.0 465.0C2122.9 468.3 2124.5 481.2 2126.0 490.0C2127.5 498.8 2128.8 519.2 2130.0 517.5C2131.2 515.8 2132.1 493.8 2133.0 480.0C2133.9 466.2 2134.5 431.8 2135.2 435.0C2135.9 438.2 2136.5 498.7 2137.1 499.5C2137.7 500.3 2138.4 444.7 2139.0 440.0C2139.6 435.3 2140.2 474.8 2140.8 471.5C2141.4 468.2 2142.1 423.6 2142.8 420.0C2143.5 416.4 2144.6 449.2 2144.8 450.0C2145.0 450.8 2144.1 433.9 2143.8 425.0C2143.4 416.1 2142.7 401.2 2142.5 396.5" fill="none" stroke="#008000" stroke-width="10.5" stroke-linejoin="round" stroke-linecap="butt"/>
<path d="M354.0 159.0C364.2 158.8 396.5 158.6 415.0 158.0C433.5 157.4 452.5 156.4 465.0 155.5C477.5 154.6 481.7 153.2 490.0 152.5C498.3 151.8 507.9 151.2 515.0 151.5C522.1 151.8 527.9 152.8 532.5 154.0C537.1 155.2 537.1 154.0 542.5 158.5C547.9 163.0 557.1 173.0 565.0 181.0C572.9 189.0 583.3 200.0 590.0 206.5C596.7 213.0 600.0 215.7 605.0 220.0C610.0 224.3 615.8 227.9 620.0 232.5C624.2 237.1 627.1 241.7 630.0 247.5C632.9 253.3 635.4 261.2 637.5 267.5C639.6 273.8 640.8 280.8 642.5 285.0C644.2 289.2 645.8 292.5 647.5 292.5C649.2 292.5 650.8 288.3 652.5 285.0C654.2 281.7 655.2 275.6 657.5 272.5C659.8 269.4 663.1 266.9 666.0 266.5C668.9 266.1 671.8 267.3 675.0 270.0C678.2 272.7 682.2 279.8 685.0 282.5C687.8 285.2 689.4 286.5 691.5 286.5C693.6 286.5 694.8 285.7 697.5 282.5C700.2 279.3 703.8 271.9 707.5 267.5C711.2 263.1 714.6 259.6 720.0 256.0C725.4 252.4 728.3 250.8 740.0 246.0C751.7 241.2 773.3 232.7 790.0 227.5C806.7 222.3 827.5 217.7 840.0 215.0C852.5 212.3 857.9 211.9 865.0 211.5C872.1 211.1 878.6 211.9 882.5 212.5C886.4 213.1 886.4 215.2 888.5 215.0C890.6 214.8 891.4 212.9 895.0 211.5C898.6 210.1 905.4 207.4 910.0 206.5C914.6 205.6 918.8 206.8 922.5 206.0C926.2 205.2 925.4 203.5 932.5 201.5C939.6 199.5 951.2 196.3 965.0 194.0C978.8 191.7 998.3 189.4 1015.0 187.5C1031.7 185.6 1049.5 183.9 1065.0 182.5C1080.5 181.1 1095.8 179.8 1108.0 179.0C1120.2 178.2 1130.1 178.2 1138.0 177.5C1145.9 176.8 1151.5 177.1 1155.5 175.0C1159.5 172.9 1159.9 168.3 1162.0 165.0C1164.1 161.7 1166.0 155.6 1168.0 155.0C1170.0 154.4 1171.7 160.8 1174.0 161.5C1176.3 162.2 1178.8 158.2 1182.0 159.0C1185.2 159.8 1189.5 164.2 1193.0 166.0C1196.5 167.8 1196.3 169.8 1203.0 170.0C1209.7 170.2 1215.5 169.2 1233.0 167.5C1250.5 165.8 1287.2 162.5 1308.0 160.0C1328.8 157.5 1341.3 154.8 1358.0 152.5C1374.7 150.2 1395.5 147.4 1408.0 146.0C1420.5 144.6 1426.3 144.3 1433.0 144.0C1439.7 143.7 1443.8 144.7 1448.0 144.0C1452.2 143.3 1453.0 141.1 1458.0 140.0C1463.0 138.9 1472.2 137.5 1478.0 137.5C1483.8 137.5 1488.8 138.5 1493.0 140.0C1497.2 141.5 1499.2 143.6 1503.0 146.5C1506.8 149.4 1510.5 154.0 1515.5 157.5C1520.5 161.0 1528.0 164.6 1533.0 167.5C1538.0 170.4 1541.8 171.7 1545.5 175.0C1549.2 178.3 1552.6 182.9 1555.5 187.5C1558.4 192.1 1560.5 195.4 1563.0 202.5C1565.5 209.6 1568.4 219.6 1570.5 230.0C1572.6 240.4 1573.8 254.2 1575.5 265.0C1577.2 275.8 1578.6 286.2 1580.5 295.0C1582.4 303.8 1584.8 312.1 1587.0 317.5C1589.2 322.9 1591.8 327.5 1594.0 327.5C1596.2 327.5 1598.6 323.8 1600.5 317.5C1602.4 311.2 1603.8 299.2 1605.5 290.0C1607.2 280.8 1608.6 268.8 1610.5 262.5C1612.4 256.2 1614.9 252.9 1617.0 252.5C1619.1 252.1 1621.2 254.6 1623.0 260.0C1624.8 265.4 1626.3 276.7 1628.0 285.0C1629.7 293.3 1631.2 306.2 1633.0 310.0C1634.8 313.8 1637.3 303.3 1639.0 307.5C1640.7 311.7 1641.7 326.7 1643.0 335.0C1644.3 343.3 1645.8 352.9 1647.0 357.5C1648.2 362.1 1649.2 363.8 1650.5 362.5C1651.8 361.2 1653.2 357.1 1654.5 350.0C1655.8 342.9 1656.6 330.8 1658.0 320.0C1659.4 309.2 1660.5 296.7 1663.0 285.0C1665.5 273.3 1668.8 261.7 1673.0 250.0C1677.2 238.3 1683.0 225.8 1688.0 215.0C1693.0 204.2 1698.0 192.9 1703.0 185.0C1708.0 177.1 1713.0 172.3 1718.0 167.5C1723.0 162.7 1727.2 159.6 1733.0 156.0C1738.8 152.4 1746.8 148.5 1753.0 146.0C1759.2 143.5 1766.5 142.0 1770.5 141.0C1774.5 140.0 1774.4 138.9 1777.0 140.0C1779.6 141.1 1783.5 142.9 1786.0 147.5C1788.5 152.1 1790.3 161.2 1792.0 167.5C1793.7 173.8 1794.8 186.7 1796.0 185.0C1797.2 183.3 1798.2 163.8 1799.5 157.5C1800.8 151.2 1802.1 147.5 1803.5 147.5C1804.9 147.5 1806.6 148.8 1808.0 157.5C1809.4 166.2 1810.5 184.6 1812.0 200.0C1813.5 215.4 1815.7 239.0 1817.0 250.0C1818.3 261.0 1818.8 266.8 1820.0 266.0C1821.2 265.2 1822.5 256.0 1824.5 245.0C1826.5 234.0 1829.1 212.9 1832.0 200.0C1834.9 187.1 1838.2 175.8 1842.0 167.5C1845.8 159.2 1850.3 153.6 1854.5 150.0C1858.7 146.4 1863.2 145.6 1867.0 146.0C1870.8 146.4 1873.7 148.1 1877.0 152.5C1880.3 156.9 1884.1 165.4 1887.0 172.5C1889.9 179.6 1892.4 187.5 1894.5 195.0C1896.6 202.5 1897.8 212.3 1899.5 217.5C1901.2 222.7 1902.8 226.8 1904.5 226.0C1906.2 225.2 1907.8 218.5 1909.5 212.5C1911.2 206.5 1912.8 196.2 1914.5 190.0C1916.2 183.8 1917.6 178.8 1919.5 175.0C1921.4 171.2 1924.3 166.7 1926.0 167.5C1927.7 168.3 1928.5 169.6 1929.5 180.0C1930.5 190.4 1931.2 215.2 1932.0 230.0C1932.8 244.8 1933.7 269.0 1934.5 269.0C1935.3 269.0 1936.2 244.8 1937.0 230.0C1937.8 215.2 1938.5 191.0 1939.5 180.0C1940.5 169.0 1941.6 167.1 1943.0 164.0C1944.4 160.9 1946.1 160.1 1948.0 161.5C1949.9 162.9 1952.2 170.2 1954.5 172.5C1956.8 174.8 1960.1 172.1 1962.0 175.0C1963.9 177.9 1964.9 185.0 1966.0 190.0C1967.1 195.0 1967.5 205.8 1968.5 205.0C1969.5 204.2 1970.6 191.0 1972.0 185.0C1973.4 179.0 1975.1 173.0 1977.0 169.0C1978.9 165.0 1981.7 161.0 1983.5 161.0C1985.3 161.0 1986.4 169.6 1988.0 169.0C1989.6 168.4 1990.8 161.5 1993.0 157.5C1995.2 153.5 1998.4 148.8 2001.0 145.0C2003.6 141.2 2006.2 135.4 2008.5 135.0C2010.8 134.6 2012.7 137.5 2014.5 142.5C2016.3 147.5 2017.8 158.3 2019.5 165.0C2021.2 171.7 2022.6 178.8 2024.5 182.5C2026.4 186.2 2028.9 188.3 2031.0 187.5C2033.1 186.7 2035.0 177.9 2037.0 177.5C2039.0 177.1 2041.2 181.2 2043.0 185.0C2044.8 188.8 2046.1 197.1 2048.0 200.0C2049.9 202.9 2052.6 204.6 2054.5 202.5C2056.4 200.4 2057.6 191.2 2059.5 187.5C2061.4 183.8 2063.9 179.6 2066.0 180.0C2068.1 180.4 2070.2 184.2 2072.0 190.0C2073.8 195.8 2075.5 209.6 2077.0 215.0C2078.5 220.4 2079.5 223.3 2081.0 222.5C2082.5 221.7 2084.3 211.7 2086.0 210.0C2087.7 208.3 2089.3 215.4 2091.0 212.5C2092.7 209.6 2094.2 197.5 2096.0 192.5C2097.8 187.5 2100.0 185.8 2102.0 182.5C2104.0 179.2 2105.5 175.4 2108.0 172.5C2110.5 169.6 2114.6 165.3 2117.0 165.0C2119.4 164.7 2120.6 166.9 2122.5 170.5C2124.4 174.1 2126.9 186.6 2128.5 186.5C2130.1 186.4 2131.2 176.5 2132.0 170.0C2132.8 163.5 2132.7 147.1 2133.5 147.5C2134.3 147.9 2135.9 173.8 2137.0 172.5C2138.1 171.2 2139.2 149.8 2140.0 140.0C2140.8 130.2 2141.4 114.8 2142.0 114.0C2142.6 113.2 2143.2 131.5 2143.5 135.0" fill="none" stroke="#800080" stroke-width="10.5" stroke-linejoin="round" stroke-linecap="butt"/>
<g style="font-family:'Liberation Sans',sans-serif;font-weight:700" fill="#000">
<g transform="translate(269.64 1624.00) scale(1 1.04)"><text font-size="75.70">4000</text></g>
<g transform="translate(518.11 1624.00) scale(1 1.04)"><text font-size="75.70">3500</text></g>
<g transform="translate(766.59 1624.00) scale(1 1.04)"><text font-size="75.70">3000</text></g>
<g transform="translate(1015.06 1624.00) scale(1 1.04)"><text font-size="75.70">2500</text></g>
<g transform="translate(1263.54 1624.00) scale(1 1.04)"><text font-size="75.70">2000</text></g>
<g transform="translate(1512.01 1624.00) scale(1 1.04)"><text font-size="75.70">1500</text><rect x="3.79" y="-9.46" width="13.66" height="11.36" fill="#fff"/><rect x="28.27" y="-9.46" width="12.87" height="11.36" fill="#fff"/></g>
<g transform="translate(1760.49 1624.00) scale(1 1.04)"><text font-size="75.70">1000</text><rect x="3.79" y="-9.46" width="13.66" height="11.36" fill="#fff"/><rect x="28.27" y="-9.46" width="12.87" height="11.36" fill="#fff"/></g>
<g transform="translate(2030.01 1624.00) scale(1 1.04)"><text font-size="75.70">500</text></g>
<g transform="translate(747.10 1737.10) scale(1 1.02)"><text font-size="100.90">Wavenumber / cm</text></g>
<g transform="translate(1612.30 1711.20) scale(1 1.045)"><text font-size="101.00">-1</text><rect x="38.68" y="-12.62" width="18.23" height="15.15" fill="#fff"/><rect x="71.36" y="-12.62" width="17.17" height="15.15" fill="#fff"/></g>
<g transform="translate(161.90 1270.93) rotate(-90) scale(1 1.02)"><text font-size="100.30">Transmittance / a. u.</text></g>
<g transform="translate(32.20 152.40)"><text font-size="131.30">(a)</text></g>
<g transform="translate(241.16 137.10) scale(1 1.03)"><text font-size="76.30">25 V</text></g>
<g transform="translate(251.16 426.80) scale(1 1.03)"><text font-size="76.30">20 V</text></g>
<g transform="translate(253.86 769.90) scale(1 1.03)"><text font-size="76.30">15 V</text><rect x="3.81" y="-9.54" width="13.77" height="11.44" fill="#fff"/><rect x="28.50" y="-9.54" width="12.97" height="11.44" fill="#fff"/></g>
<g transform="translate(267.16 1092.90) scale(1 1.03)"><text font-size="76.30">10 V</text><rect x="3.81" y="-9.54" width="13.77" height="11.44" fill="#fff"/><rect x="28.50" y="-9.54" width="12.97" height="11.44" fill="#fff"/></g>
<g transform="translate(288.60 1287.90) scale(1 1.03)"><text font-size="76.30">5 V</text></g>
<g transform="translate(657.10 586.62) rotate(-90) scale(1 1.05)"><text font-size="39.41">O-H Stretching</text></g>
<g transform="translate(712.30 522.81) rotate(-90) scale(1 1.05)"><text font-size="39.37">O-H (Polyol)</text></g>
<g transform="translate(762.10 511.74) rotate(-90) scale(1 1.05)"><text font-size="39.47">Stretching</text></g>
<g transform="translate(1545.00 476.79) rotate(-90) scale(1 1.05)"><text font-size="41.64">H-O-H bending</text></g>
<g transform="translate(1607.40 601.23) rotate(-90) scale(1 1.05)"><text font-size="37.32">O-O Stretching</text></g>
<g transform="translate(1665.30 673.10) rotate(-90) scale(1 1.05)"><text font-size="41.49">C=O Stretching</text></g>
</g>
<g fill="#000">
<rect x="211.8" y="1882.2" width="1964.6" height="10.6"/>
<rect x="197.3" y="3310.1" width="1984.4" height="10.6"/>
<rect x="220.5" y="1882.2" width="10.6" height="1438.5"/>
<rect x="197.3" y="1992.0" width="24.2" height="10.6"/>
<rect x="197.3" y="2211.7" width="24.2" height="10.6"/>
<rect x="197.3" y="2431.4" width="24.2" height="10.6"/>
<rect x="197.3" y="2651.1" width="24.2" height="10.6"/>
<rect x="197.3" y="2870.7" width="24.2" height="10.6"/>
<rect x="197.3" y="3090.4" width="24.2" height="10.6"/>
<rect x="211.8" y="2101.9" width="9.7" height="10.6"/>
<rect x="211.8" y="2321.6" width="9.7" height="10.6"/>
<rect x="211.8" y="2541.2" width="9.7" height="10.6"/>
<rect x="211.8" y="2760.9" width="9.7" height="10.6"/>
<rect x="211.8" y="2980.6" width="9.7" height="10.6"/>
<rect x="211.8" y="3200.3" width="9.7" height="10.6"/>
<rect x="220.5" y="3315.4" width="10.6" height="28.5"/>
<rect x="499.2" y="3315.4" width="10.6" height="28.5"/>
<rect x="777.8" y="3315.4" width="10.6" height="28.5"/>
<rect x="1056.5" y="3315.4" width="10.6" height="28.5"/>
<rect x="1335.1" y="3315.4" width="10.6" height="28.5"/>
<rect x="1613.8" y="3315.4" width="10.6" height="28.5"/>
<rect x="1892.4" y="3315.4" width="10.6" height="28.5"/>
<rect x="2171.1" y="3315.4" width="10.6" height="28.5"/>
<rect x="359.8" y="3315.4" width="10.6" height="14.0"/>
<rect x="638.5" y="3315.4" width="10.6" height="14.0"/>
<rect x="917.1" y="3315.4" width="10.6" height="14.0"/>
<rect x="1195.8" y="3315.4" width="10.6" height="14.0"/>
<rect x="1474.5" y="3315.4" width="10.6" height="14.0"/>
<rect x="1753.1" y="3315.4" width="10.6" height="14.0"/>
<rect x="2031.8" y="3315.4" width="10.6" height="14.0"/>
</g>
<path d="M229.0 3135.0C230.4 3134.6 234.4 3134.2 237.5 3132.5C240.6 3130.8 244.2 3126.9 247.5 3125.0C250.8 3123.1 253.8 3121.8 257.5 3121.0C261.2 3120.2 265.4 3119.6 270.0 3120.0C274.6 3120.4 280.0 3121.8 285.0 3123.5C290.0 3125.2 295.0 3127.1 300.0 3130.0C305.0 3132.9 310.0 3137.0 315.0 3141.0C320.0 3145.0 325.0 3150.0 330.0 3154.0C335.0 3158.0 340.0 3162.2 345.0 3165.0C350.0 3167.8 355.4 3169.8 360.0 3171.0C364.6 3172.2 368.8 3172.7 372.5 3172.5C376.2 3172.3 377.9 3171.9 382.5 3170.0C387.1 3168.1 393.8 3163.9 400.0 3161.0C406.2 3158.1 413.3 3155.0 420.0 3152.5C426.7 3150.0 433.3 3148.2 440.0 3146.0C446.7 3143.8 453.3 3141.0 460.0 3139.0C466.7 3137.0 473.3 3135.5 480.0 3134.0C486.7 3132.5 492.5 3131.5 500.0 3130.0C507.5 3128.5 516.7 3126.5 525.0 3125.0C533.3 3123.5 541.7 3122.0 550.0 3121.0C558.3 3120.0 566.7 3119.8 575.0 3119.0C583.3 3118.2 592.5 3117.2 600.0 3116.5C607.5 3115.8 611.7 3115.1 620.0 3115.0C628.3 3114.9 640.8 3115.4 650.0 3116.0C659.2 3116.6 667.5 3117.4 675.0 3118.5C682.5 3119.6 688.3 3121.2 695.0 3122.5C701.7 3123.8 709.2 3125.4 715.0 3126.5C720.8 3127.6 724.2 3128.4 730.0 3129.0C735.8 3129.6 743.3 3129.8 750.0 3130.0C756.7 3130.2 763.3 3129.6 770.0 3130.0C776.7 3130.4 783.3 3131.2 790.0 3132.5C796.7 3133.8 803.3 3136.1 810.0 3137.5C816.7 3138.9 823.8 3140.2 830.0 3141.0C836.2 3141.8 841.7 3142.5 847.5 3142.5C853.3 3142.5 859.6 3142.1 865.0 3141.0C870.4 3139.9 875.0 3137.6 880.0 3136.0C885.0 3134.4 890.0 3132.7 895.0 3131.5C900.0 3130.3 904.2 3129.5 910.0 3129.0C915.8 3128.5 923.8 3128.6 930.0 3128.5C936.2 3128.4 942.5 3128.2 947.5 3128.5C952.5 3128.8 956.6 3129.2 960.0 3130.0C963.4 3130.8 965.0 3133.2 968.0 3133.5C971.0 3133.8 974.8 3131.2 978.0 3131.5C981.2 3131.8 984.3 3133.2 987.0 3135.0C989.7 3136.8 991.8 3139.0 994.0 3142.5C996.2 3146.0 998.6 3152.2 1000.5 3156.0C1002.4 3159.8 1004.0 3162.9 1005.5 3165.0C1007.0 3167.1 1008.0 3168.8 1009.5 3168.5C1011.0 3168.2 1012.7 3166.6 1014.5 3163.5C1016.3 3160.4 1018.4 3154.3 1020.5 3150.0C1022.6 3145.7 1024.5 3141.1 1027.0 3137.5C1029.5 3133.9 1032.4 3130.8 1035.5 3128.5C1038.6 3126.2 1041.8 3124.8 1045.5 3123.5C1049.2 3122.2 1053.4 3122.0 1058.0 3121.0C1062.6 3120.0 1068.0 3118.2 1073.0 3117.5C1078.0 3116.8 1082.2 3116.5 1088.0 3116.5C1093.8 3116.5 1101.3 3116.9 1108.0 3117.5C1114.7 3118.1 1122.2 3119.4 1128.0 3120.0C1133.8 3120.6 1138.0 3120.6 1143.0 3121.0C1148.0 3121.4 1153.0 3121.4 1158.0 3122.5C1163.0 3123.6 1168.0 3126.0 1173.0 3127.5C1178.0 3129.0 1184.0 3130.7 1188.0 3131.5C1192.0 3132.3 1193.7 3132.8 1197.0 3132.5C1200.3 3132.2 1203.7 3131.4 1208.0 3130.0C1212.3 3128.6 1218.0 3125.5 1223.0 3124.0C1228.0 3122.5 1232.2 3122.2 1238.0 3121.0C1243.8 3119.8 1251.3 3117.3 1258.0 3116.5C1264.7 3115.7 1271.8 3116.4 1278.0 3116.0C1284.2 3115.6 1291.3 3114.2 1295.5 3114.0C1299.7 3113.8 1300.1 3115.2 1303.0 3115.0C1305.9 3114.8 1308.0 3113.2 1313.0 3112.5C1318.0 3111.8 1326.3 3111.7 1333.0 3111.0C1339.7 3110.3 1347.2 3109.5 1353.0 3108.5C1358.8 3107.5 1362.2 3106.2 1368.0 3105.0C1373.8 3103.8 1381.3 3102.8 1388.0 3101.5C1394.7 3100.2 1401.8 3098.2 1408.0 3097.5C1414.2 3096.8 1420.5 3098.1 1425.5 3097.5C1430.5 3096.9 1433.8 3094.0 1438.0 3094.0C1442.2 3094.0 1446.3 3095.7 1450.5 3097.5C1454.7 3099.3 1459.2 3101.7 1463.0 3105.0C1466.8 3108.3 1469.7 3113.1 1473.0 3117.5C1476.3 3121.9 1479.2 3126.5 1483.0 3131.5C1486.8 3136.5 1491.3 3142.8 1495.5 3147.5C1499.7 3152.2 1505.2 3157.1 1508.0 3160.0C1510.8 3162.9 1508.8 3163.6 1512.0 3165.0C1515.2 3166.4 1521.4 3167.4 1527.0 3168.5C1532.6 3169.6 1540.5 3171.4 1545.5 3171.5C1550.5 3171.6 1553.4 3169.7 1557.0 3169.0C1560.6 3168.3 1562.8 3169.0 1567.0 3167.5C1571.2 3166.0 1577.0 3162.5 1582.0 3160.0C1587.0 3157.5 1592.4 3154.4 1597.0 3152.5C1601.6 3150.6 1605.3 3150.0 1609.5 3148.5C1613.7 3147.0 1617.4 3144.1 1622.0 3143.5C1626.6 3142.9 1632.0 3145.2 1637.0 3145.0C1642.0 3144.8 1648.2 3142.7 1652.0 3142.5C1655.8 3142.3 1656.6 3144.4 1659.5 3144.0C1662.4 3143.6 1665.3 3140.4 1669.5 3140.0C1673.7 3139.6 1680.3 3141.8 1684.5 3141.5C1688.7 3141.2 1691.2 3140.0 1694.5 3138.5C1697.8 3137.0 1700.8 3134.1 1704.5 3132.5C1708.2 3130.9 1713.2 3129.7 1717.0 3129.0C1720.8 3128.3 1722.8 3129.6 1727.0 3128.5C1731.2 3127.4 1737.0 3123.5 1742.0 3122.5C1747.0 3121.5 1752.0 3123.2 1757.0 3122.5C1762.0 3121.8 1767.4 3118.7 1772.0 3118.5C1776.6 3118.3 1780.8 3120.7 1784.5 3121.5C1788.2 3122.3 1791.2 3123.2 1794.5 3123.5C1797.8 3123.8 1801.2 3122.7 1804.5 3123.5C1807.8 3124.3 1811.2 3127.0 1814.5 3128.5C1817.8 3130.0 1820.8 3132.0 1824.5 3132.5C1828.2 3133.0 1832.8 3131.2 1837.0 3131.5C1841.2 3131.8 1845.8 3134.7 1849.5 3134.0C1853.2 3133.3 1855.8 3128.2 1859.5 3127.5C1863.2 3126.8 1867.8 3129.2 1872.0 3130.0C1876.2 3130.8 1880.3 3132.5 1884.5 3132.5C1888.7 3132.5 1893.2 3131.2 1897.0 3130.0C1900.8 3128.8 1903.7 3126.0 1907.0 3125.0C1910.3 3124.0 1914.1 3124.4 1917.0 3124.0C1919.9 3123.6 1920.8 3122.2 1924.5 3122.5C1928.2 3122.8 1935.8 3126.2 1939.5 3126.0C1943.2 3125.8 1944.5 3122.6 1947.0 3121.0C1949.5 3119.4 1950.8 3116.4 1954.5 3116.5C1958.2 3116.6 1965.3 3121.9 1969.5 3121.5C1973.7 3121.1 1976.2 3114.9 1979.5 3114.0C1982.8 3113.1 1986.2 3116.0 1989.5 3116.0C1992.8 3116.0 1996.3 3115.0 1999.5 3114.0C2002.7 3113.0 2005.2 3109.4 2008.5 3110.0C2011.8 3110.6 2016.4 3117.3 2019.5 3117.5C2022.6 3117.7 2024.5 3112.7 2027.0 3111.0C2029.5 3109.3 2030.8 3108.1 2034.5 3107.5C2038.2 3106.9 2045.3 3106.1 2049.5 3107.5C2053.7 3108.9 2056.2 3116.2 2059.5 3116.0C2062.8 3115.8 2066.6 3106.6 2069.5 3106.0C2072.4 3105.4 2074.1 3110.8 2077.0 3112.5C2079.9 3114.2 2083.2 3116.0 2087.0 3116.0C2090.8 3116.0 2096.2 3112.5 2099.5 3112.5C2102.8 3112.5 2104.5 3115.4 2107.0 3116.0C2109.5 3116.6 2112.4 3114.7 2114.5 3116.0C2116.6 3117.3 2118.7 3122.7 2119.5 3124.0" fill="none" stroke="#000000" stroke-width="10.4" stroke-linejoin="round" stroke-linecap="butt"/>
<path d="M225.0 2946.0C226.7 2945.7 231.7 2945.4 235.0 2944.0C238.3 2942.6 241.2 2939.6 245.0 2937.5C248.8 2935.4 252.9 2932.8 257.5 2931.5C262.1 2930.2 267.5 2929.7 272.5 2930.0C277.5 2930.3 282.1 2931.4 287.5 2933.5C292.9 2935.6 299.6 2938.9 305.0 2942.5C310.4 2946.1 315.0 2950.8 320.0 2955.0C325.0 2959.2 330.0 2964.2 335.0 2967.5C340.0 2970.8 345.4 2973.1 350.0 2975.0C354.6 2976.9 358.8 2978.2 362.5 2979.0C366.2 2979.8 369.2 2980.2 372.5 2980.0C375.8 2979.8 377.9 2979.3 382.5 2977.5C387.1 2975.7 393.8 2971.7 400.0 2969.0C406.2 2966.3 413.3 2964.0 420.0 2961.5C426.7 2959.0 433.3 2956.2 440.0 2954.0C446.7 2951.8 453.3 2950.2 460.0 2948.5C466.7 2946.8 473.3 2944.8 480.0 2943.5C486.7 2942.2 492.5 2942.2 500.0 2941.0C507.5 2939.8 516.7 2937.4 525.0 2936.0C533.3 2934.6 541.7 2933.3 550.0 2932.5C558.3 2931.7 566.7 2931.7 575.0 2931.0C583.3 2930.3 591.7 2929.0 600.0 2928.5C608.3 2928.0 616.7 2928.0 625.0 2928.0C633.3 2928.0 642.5 2928.2 650.0 2928.5C657.5 2928.8 663.3 2929.2 670.0 2930.0C676.7 2930.8 683.3 2932.4 690.0 2933.5C696.7 2934.6 703.3 2935.2 710.0 2936.5C716.7 2937.8 722.5 2940.2 730.0 2941.0C737.5 2941.8 748.3 2941.2 755.0 2941.5C761.7 2941.8 764.6 2942.3 770.0 2942.5C775.4 2942.7 781.7 2941.7 787.5 2942.5C793.3 2943.3 798.8 2946.1 805.0 2947.5C811.2 2948.9 819.2 2950.0 825.0 2951.0C830.8 2952.0 835.8 2953.0 840.0 2953.5C844.2 2954.0 846.2 2954.3 850.0 2954.0C853.8 2953.7 858.8 2952.4 862.5 2951.5C866.2 2950.6 868.3 2949.3 872.5 2948.5C876.7 2947.7 882.1 2947.7 887.5 2946.5C892.9 2945.3 899.6 2942.2 905.0 2941.5C910.4 2940.8 915.4 2942.5 920.0 2942.5C924.6 2942.5 927.9 2941.9 932.5 2941.5C937.1 2941.1 942.9 2939.8 947.5 2940.0C952.1 2940.2 956.6 2941.5 960.0 2942.5C963.4 2943.5 964.6 2945.6 968.0 2946.0C971.4 2946.4 977.2 2944.8 980.5 2945.0C983.8 2945.2 985.5 2945.4 988.0 2947.5C990.5 2949.6 993.2 2953.3 995.5 2957.5C997.8 2961.7 1000.1 2968.8 1002.0 2972.5C1003.9 2976.2 1005.6 2978.5 1007.0 2980.0C1008.4 2981.5 1009.1 2982.3 1010.5 2981.5C1011.9 2980.7 1013.6 2978.6 1015.5 2975.0C1017.4 2971.4 1019.9 2964.4 1022.0 2960.0C1024.1 2955.6 1025.3 2951.8 1028.0 2948.5C1030.7 2945.2 1033.8 2942.2 1038.0 2940.0C1042.2 2937.8 1048.0 2936.5 1053.0 2935.0C1058.0 2933.5 1062.2 2931.6 1068.0 2931.0C1073.8 2930.4 1081.3 2931.8 1088.0 2931.5C1094.7 2931.2 1102.6 2928.8 1108.0 2929.0C1113.4 2929.2 1115.9 2931.5 1120.5 2932.5C1125.1 2933.5 1130.5 2934.8 1135.5 2935.0C1140.5 2935.2 1145.1 2932.9 1150.5 2933.5C1155.9 2934.1 1162.6 2937.2 1168.0 2938.5C1173.4 2939.8 1178.0 2940.4 1183.0 2941.5C1188.0 2942.6 1193.8 2944.8 1198.0 2945.0C1202.2 2945.2 1204.2 2943.8 1208.0 2942.5C1211.8 2941.2 1215.9 2939.0 1220.5 2937.5C1225.1 2936.0 1230.9 2934.2 1235.5 2933.5C1240.1 2932.8 1242.6 2934.1 1248.0 2933.5C1253.4 2932.9 1261.3 2931.0 1268.0 2930.0C1274.7 2929.0 1282.2 2927.8 1288.0 2927.5C1293.8 2927.2 1298.0 2928.7 1303.0 2928.5C1308.0 2928.3 1312.2 2927.2 1318.0 2926.5C1323.8 2925.8 1331.3 2924.8 1338.0 2924.0C1344.7 2923.2 1351.3 2922.6 1358.0 2921.5C1364.7 2920.4 1371.3 2918.6 1378.0 2917.5C1384.7 2916.4 1392.6 2916.0 1398.0 2915.0C1403.4 2914.0 1406.8 2912.3 1410.5 2911.5C1414.2 2910.7 1416.3 2910.1 1420.5 2910.0C1424.7 2909.9 1430.9 2910.8 1435.5 2911.0C1440.1 2911.2 1444.2 2910.3 1448.0 2911.0C1451.8 2911.7 1454.7 2912.2 1458.0 2915.0C1461.3 2917.8 1464.2 2922.9 1468.0 2927.5C1471.8 2932.1 1476.3 2937.8 1480.5 2942.5C1484.7 2947.2 1488.8 2951.4 1493.0 2956.0C1497.2 2960.6 1501.8 2966.4 1505.5 2970.0C1509.2 2973.6 1512.8 2975.8 1515.5 2977.5C1518.2 2979.2 1518.4 2979.3 1522.0 2980.0C1525.6 2980.7 1532.0 2980.9 1537.0 2981.5C1542.0 2982.1 1547.8 2983.5 1552.0 2983.5C1556.2 2983.5 1557.8 2982.9 1562.0 2981.5C1566.2 2980.1 1572.0 2977.1 1577.0 2975.0C1582.0 2972.9 1587.0 2971.1 1592.0 2969.0C1597.0 2966.9 1602.0 2964.4 1607.0 2962.5C1612.0 2960.6 1617.4 2958.1 1622.0 2957.5C1626.6 2956.9 1630.3 2959.2 1634.5 2959.0C1638.7 2958.8 1642.4 2956.7 1647.0 2956.0C1651.6 2955.3 1656.6 2955.3 1662.0 2955.0C1667.4 2954.7 1674.1 2954.8 1679.5 2954.0C1684.9 2953.2 1689.5 2951.1 1694.5 2950.0C1699.5 2948.9 1704.5 2948.8 1709.5 2947.5C1714.5 2946.2 1719.9 2943.9 1724.5 2942.5C1729.1 2941.1 1732.4 2939.7 1737.0 2939.0C1741.6 2938.3 1747.4 2939.0 1752.0 2938.5C1756.6 2938.0 1760.3 2936.6 1764.5 2936.0C1768.7 2935.4 1772.8 2934.6 1777.0 2935.0C1781.2 2935.4 1785.8 2937.9 1789.5 2938.5C1793.2 2939.1 1796.2 2938.0 1799.5 2938.5C1802.8 2939.0 1806.2 2940.2 1809.5 2941.5C1812.8 2942.8 1816.2 2944.8 1819.5 2946.0C1822.8 2947.2 1826.2 2948.5 1829.5 2948.5C1832.8 2948.5 1835.8 2947.0 1839.5 2946.0C1843.2 2945.0 1848.2 2943.1 1852.0 2942.5C1855.8 2941.9 1858.2 2942.2 1862.0 2942.5C1865.8 2942.8 1870.8 2943.8 1874.5 2944.0C1878.2 2944.2 1881.2 2943.5 1884.5 2943.5C1887.8 2943.5 1890.8 2944.6 1894.5 2944.0C1898.2 2943.4 1903.2 2940.7 1907.0 2940.0C1910.8 2939.3 1914.1 2940.6 1917.0 2940.0C1919.9 2939.4 1921.2 2937.2 1924.5 2936.5C1927.8 2935.8 1932.8 2936.2 1937.0 2936.0C1941.2 2935.8 1946.2 2935.8 1949.5 2935.0C1952.8 2934.2 1954.1 2932.1 1957.0 2931.0C1959.9 2929.9 1962.8 2928.7 1967.0 2928.5C1971.2 2928.3 1977.4 2929.5 1982.0 2930.0C1986.6 2930.5 1990.8 2931.8 1994.5 2931.5C1998.2 2931.2 2001.2 2928.9 2004.5 2928.5C2007.8 2928.1 2011.6 2929.8 2014.5 2929.0C2017.4 2928.2 2019.5 2925.1 2022.0 2924.0C2024.5 2922.9 2026.6 2922.5 2029.5 2922.5C2032.4 2922.5 2036.6 2923.6 2039.5 2924.0C2042.4 2924.4 2044.5 2925.1 2047.0 2925.0C2049.5 2924.9 2052.0 2923.7 2054.5 2923.5C2057.0 2923.3 2059.2 2922.9 2062.0 2924.0C2064.8 2925.1 2068.1 2929.2 2071.0 2930.0C2073.9 2930.8 2076.8 2930.0 2079.5 2929.0C2082.2 2928.0 2084.5 2925.2 2087.0 2924.0C2089.5 2922.8 2091.6 2921.2 2094.5 2921.5C2097.4 2921.8 2101.6 2925.7 2104.5 2926.0C2107.4 2926.3 2109.9 2924.3 2112.0 2923.5C2114.1 2922.7 2115.2 2920.8 2117.0 2921.0C2118.8 2921.2 2120.9 2925.8 2123.0 2925.0C2125.1 2924.2 2127.3 2918.3 2129.5 2916.5C2131.7 2914.7 2134.1 2915.7 2136.0 2914.0C2137.9 2912.3 2139.2 2908.4 2141.0 2906.5C2142.8 2904.6 2145.2 2901.8 2147.0 2902.5C2148.8 2903.2 2150.3 2907.9 2152.0 2911.0C2153.7 2914.1 2155.3 2920.3 2157.0 2921.0C2158.7 2921.7 2160.3 2917.0 2162.0 2915.0C2163.7 2913.0 2165.5 2910.5 2167.0 2909.0C2168.5 2907.5 2170.3 2906.5 2171.0 2906.0" fill="none" stroke="#ff0000" stroke-width="10.4" stroke-linejoin="round" stroke-linecap="butt"/>
<path d="M225.0 2663.5C226.0 2664.6 228.9 2669.5 231.0 2670.0C233.1 2670.5 235.3 2669.8 237.5 2666.5C239.7 2663.2 241.9 2655.8 244.0 2650.0C246.1 2644.2 247.8 2636.5 250.0 2631.5C252.2 2626.5 254.6 2622.3 257.5 2620.0C260.4 2617.7 263.8 2617.1 267.5 2617.5C271.2 2617.9 275.8 2619.6 280.0 2622.5C284.2 2625.4 288.3 2629.6 292.5 2635.0C296.7 2640.4 300.8 2647.1 305.0 2655.0C309.2 2662.9 313.3 2672.5 317.5 2682.5C321.7 2692.5 325.8 2705.4 330.0 2715.0C334.2 2724.6 338.3 2732.9 342.5 2740.0C346.7 2747.1 350.8 2753.2 355.0 2757.5C359.2 2761.8 363.8 2765.6 367.5 2766.0C371.2 2766.4 374.2 2763.5 377.5 2760.0C380.8 2756.5 383.8 2750.8 387.5 2745.0C391.2 2739.2 395.4 2731.5 400.0 2725.0C404.6 2718.5 409.2 2712.2 415.0 2706.0C420.8 2699.8 427.5 2693.7 435.0 2687.5C442.5 2681.3 451.7 2674.8 460.0 2669.0C468.3 2663.2 478.3 2656.1 485.0 2652.5C491.7 2648.9 493.3 2650.0 500.0 2647.5C506.7 2645.0 515.8 2640.4 525.0 2637.5C534.2 2634.6 545.8 2632.5 555.0 2630.0C564.2 2627.5 573.3 2623.9 580.0 2622.5C586.7 2621.1 589.6 2622.1 595.0 2621.5C600.4 2620.9 605.8 2619.1 612.5 2619.0C619.2 2618.9 628.3 2620.2 635.0 2621.0C641.7 2621.8 647.1 2623.0 652.5 2623.5C657.9 2624.0 662.5 2622.9 667.5 2624.0C672.5 2625.1 677.1 2627.6 682.5 2630.0C687.9 2632.4 694.2 2635.4 700.0 2638.5C705.8 2641.6 711.2 2645.6 717.5 2648.5C723.8 2651.4 731.7 2654.1 737.5 2656.0C743.3 2657.9 747.5 2657.9 752.5 2660.0C757.5 2662.1 762.5 2665.0 767.5 2668.5C772.5 2672.0 777.5 2676.2 782.5 2681.0C787.5 2685.8 792.9 2692.8 797.5 2697.5C802.1 2702.2 805.8 2705.9 810.0 2709.0C814.2 2712.1 818.3 2714.3 822.5 2716.0C826.7 2717.7 830.8 2718.8 835.0 2719.0C839.2 2719.2 843.3 2718.2 847.5 2717.5C851.7 2716.8 855.8 2716.9 860.0 2715.0C864.2 2713.1 867.9 2710.0 872.5 2706.0C877.1 2702.0 882.1 2696.3 887.5 2691.0C892.9 2685.7 899.2 2678.8 905.0 2674.0C910.8 2669.2 917.1 2665.8 922.5 2662.5C927.9 2659.2 933.3 2655.7 937.5 2654.0C941.7 2652.3 943.8 2652.3 947.5 2652.5C951.2 2652.7 956.6 2653.6 960.0 2655.0C963.4 2656.4 965.4 2658.5 968.0 2661.0C970.6 2663.5 973.0 2667.0 975.5 2670.0C978.0 2673.0 980.5 2674.0 983.0 2679.0C985.5 2684.0 988.2 2691.5 990.5 2700.0C992.8 2708.5 994.9 2720.0 997.0 2730.0C999.1 2740.0 1001.3 2752.9 1003.0 2760.0C1004.7 2767.1 1005.9 2770.0 1007.0 2772.5C1008.1 2775.0 1008.5 2775.8 1009.5 2775.0C1010.5 2774.2 1011.6 2773.3 1013.0 2767.5C1014.4 2761.7 1016.2 2750.4 1018.0 2740.0C1019.8 2729.6 1021.9 2715.0 1024.0 2705.0C1026.1 2695.0 1028.2 2686.7 1030.5 2680.0C1032.8 2673.3 1035.1 2669.3 1038.0 2665.0C1040.9 2660.7 1044.7 2657.1 1048.0 2654.0C1051.3 2650.9 1053.8 2648.7 1058.0 2646.5C1062.2 2644.3 1068.4 2641.9 1073.0 2641.0C1077.6 2640.1 1081.3 2640.3 1085.5 2641.0C1089.7 2641.7 1093.4 2643.5 1098.0 2645.0C1102.6 2646.5 1108.4 2648.2 1113.0 2650.0C1117.6 2651.8 1121.3 2654.5 1125.5 2656.0C1129.7 2657.5 1133.4 2658.9 1138.0 2659.0C1142.6 2659.1 1148.4 2656.3 1153.0 2656.5C1157.6 2656.7 1161.8 2657.8 1165.5 2660.0C1169.2 2662.2 1172.4 2666.0 1175.5 2670.0C1178.6 2674.0 1181.5 2680.0 1184.0 2684.0C1186.5 2688.0 1188.3 2691.8 1190.5 2694.0C1192.7 2696.2 1194.8 2697.8 1197.0 2697.5C1199.2 2697.2 1201.3 2695.4 1204.0 2692.5C1206.7 2689.6 1209.8 2684.2 1213.0 2680.0C1216.2 2675.8 1219.2 2671.0 1223.0 2667.5C1226.8 2664.0 1231.3 2661.5 1235.5 2659.0C1239.7 2656.5 1243.4 2654.0 1248.0 2652.5C1252.6 2651.0 1258.8 2650.0 1263.0 2650.0C1267.2 2650.0 1269.7 2652.9 1273.0 2652.5C1276.3 2652.1 1279.7 2648.8 1283.0 2647.5C1286.3 2646.2 1289.2 2644.8 1293.0 2645.0C1296.8 2645.2 1301.3 2649.6 1305.5 2649.0C1309.7 2648.4 1314.2 2643.2 1318.0 2641.5C1321.8 2639.8 1324.7 2640.1 1328.0 2639.0C1331.3 2637.9 1334.7 2635.5 1338.0 2635.0C1341.3 2634.5 1344.7 2636.6 1348.0 2636.0C1351.3 2635.4 1354.7 2632.9 1358.0 2631.5C1361.3 2630.1 1364.2 2629.4 1368.0 2627.5C1371.8 2625.6 1376.3 2622.3 1380.5 2620.0C1384.7 2617.7 1389.2 2614.8 1393.0 2613.5C1396.8 2612.2 1399.2 2613.1 1403.0 2612.5C1406.8 2611.9 1411.8 2610.2 1415.5 2610.0C1419.2 2609.8 1422.2 2611.9 1425.5 2611.5C1428.8 2611.1 1431.3 2608.3 1435.5 2607.5C1439.7 2606.7 1446.3 2606.2 1450.5 2606.5C1454.7 2606.8 1457.2 2608.2 1460.5 2609.0C1463.8 2609.8 1467.2 2610.1 1470.5 2611.5C1473.8 2612.9 1477.6 2615.7 1480.5 2617.5C1483.4 2619.3 1485.1 2620.2 1488.0 2622.5C1490.9 2624.8 1494.7 2630.0 1498.0 2631.5C1501.3 2633.0 1504.2 2631.1 1508.0 2631.5C1511.8 2631.9 1516.8 2633.0 1520.5 2634.0C1524.2 2635.0 1526.8 2636.2 1530.5 2637.5C1534.2 2638.8 1539.4 2640.2 1543.0 2641.5C1546.6 2642.8 1549.1 2645.1 1552.0 2645.0C1554.9 2644.9 1557.4 2642.2 1560.5 2641.0C1563.6 2639.8 1567.2 2639.3 1570.5 2637.5C1573.8 2635.7 1576.8 2631.4 1580.5 2630.0C1584.2 2628.6 1589.4 2630.1 1593.0 2629.0C1596.6 2627.9 1599.1 2623.5 1602.0 2623.5C1604.9 2623.5 1607.8 2627.7 1610.5 2629.0C1613.2 2630.3 1615.1 2629.8 1618.0 2631.5C1620.9 2633.2 1624.7 2636.8 1628.0 2639.0C1631.3 2641.2 1634.2 2641.9 1638.0 2645.0C1641.8 2648.1 1646.8 2655.6 1650.5 2657.5C1654.2 2659.4 1657.6 2656.1 1660.5 2656.5C1663.4 2656.9 1665.1 2660.0 1668.0 2660.0C1670.9 2660.0 1674.5 2656.2 1678.0 2656.5C1681.5 2656.8 1685.7 2661.5 1689.0 2661.5C1692.3 2661.5 1695.0 2657.8 1698.0 2656.5C1701.0 2655.2 1703.8 2655.6 1707.0 2653.5C1710.2 2651.4 1713.7 2646.2 1717.0 2644.0C1720.3 2641.8 1723.2 2641.7 1727.0 2640.0C1730.8 2638.3 1735.8 2636.5 1739.5 2634.0C1743.2 2631.5 1746.2 2627.3 1749.5 2625.0C1752.8 2622.7 1756.6 2622.1 1759.5 2620.0C1762.4 2617.9 1764.8 2614.6 1767.0 2612.5C1769.2 2610.4 1770.9 2607.5 1773.0 2607.5C1775.1 2607.5 1777.2 2610.0 1779.5 2612.5C1781.8 2615.0 1784.5 2619.2 1787.0 2622.5C1789.5 2625.8 1792.0 2629.4 1794.5 2632.5C1797.0 2635.6 1799.5 2637.2 1802.0 2641.0C1804.5 2644.8 1807.2 2650.4 1809.5 2655.0C1811.8 2659.6 1813.8 2665.3 1816.0 2668.5C1818.2 2671.7 1820.3 2673.5 1823.0 2674.0C1825.7 2674.5 1829.2 2672.8 1832.0 2671.5C1834.8 2670.2 1837.0 2668.8 1839.5 2666.5C1842.0 2664.2 1844.5 2660.2 1847.0 2657.5C1849.5 2654.8 1852.2 2651.5 1854.5 2650.0C1856.8 2648.5 1858.2 2647.7 1860.5 2648.5C1862.8 2649.3 1865.2 2653.1 1868.0 2655.0C1870.8 2656.9 1873.8 2659.2 1877.0 2660.0C1880.2 2660.8 1883.7 2659.8 1887.0 2660.0C1890.3 2660.2 1893.7 2662.1 1897.0 2661.5C1900.3 2660.9 1903.7 2658.4 1907.0 2656.5C1910.3 2654.6 1914.1 2651.9 1917.0 2650.0C1919.9 2648.1 1922.0 2645.8 1924.5 2645.0C1927.0 2644.2 1929.5 2646.1 1932.0 2645.0C1934.5 2643.9 1937.0 2640.2 1939.5 2638.5C1942.0 2636.8 1944.5 2637.4 1947.0 2635.0C1949.5 2632.6 1952.0 2626.5 1954.5 2624.0C1957.0 2621.5 1959.5 2622.3 1962.0 2620.0C1964.5 2617.7 1967.0 2612.3 1969.5 2610.0C1972.0 2607.7 1974.8 2606.0 1977.0 2606.0C1979.2 2606.0 1981.2 2607.7 1983.0 2610.0C1984.8 2612.3 1986.5 2617.3 1988.0 2620.0C1989.5 2622.7 1990.1 2624.8 1992.0 2626.0C1993.9 2627.2 1997.4 2626.4 1999.5 2627.5C2001.6 2628.6 2002.8 2631.2 2004.5 2632.5C2006.2 2633.8 2007.8 2635.6 2009.5 2635.0C2011.2 2634.4 2012.8 2631.5 2014.5 2629.0C2016.2 2626.5 2017.4 2623.2 2019.5 2620.0C2021.6 2616.8 2024.5 2613.5 2027.0 2610.0C2029.5 2606.5 2032.2 2602.1 2034.5 2599.0C2036.8 2595.9 2038.9 2592.8 2041.0 2591.5C2043.1 2590.2 2045.0 2591.8 2047.0 2591.0C2049.0 2590.2 2051.2 2586.5 2053.0 2586.5C2054.8 2586.5 2056.1 2588.3 2058.0 2591.0C2059.9 2593.7 2062.3 2598.3 2064.5 2602.5C2066.7 2606.7 2068.9 2611.0 2071.0 2616.0C2073.1 2621.0 2075.0 2627.7 2077.0 2632.5C2079.0 2637.3 2081.2 2642.1 2083.0 2645.0C2084.8 2647.9 2086.1 2649.2 2088.0 2650.0C2089.9 2650.8 2092.6 2650.2 2094.5 2650.0C2096.4 2649.8 2098.0 2650.2 2099.5 2649.0C2101.0 2647.8 2102.1 2646.9 2103.5 2642.5C2104.9 2638.1 2106.6 2629.2 2108.0 2622.5C2109.4 2615.8 2110.7 2608.1 2112.0 2602.5C2113.3 2596.9 2114.8 2591.8 2116.0 2589.0C2117.2 2586.2 2118.2 2585.4 2119.5 2586.0C2120.8 2586.6 2122.1 2590.0 2123.5 2592.5C2124.9 2595.0 2126.6 2600.6 2128.0 2601.0C2129.4 2601.4 2130.5 2597.2 2132.0 2595.0C2133.5 2592.8 2135.5 2587.5 2137.0 2587.5C2138.5 2587.5 2139.6 2591.2 2141.0 2595.0C2142.4 2598.8 2144.1 2606.2 2145.5 2610.0C2146.9 2613.8 2148.2 2618.8 2149.5 2617.5C2150.8 2616.2 2152.2 2607.9 2153.5 2602.5C2154.8 2597.1 2155.8 2588.9 2157.0 2585.0C2158.2 2581.1 2159.2 2578.2 2160.5 2579.0C2161.8 2579.8 2163.2 2585.8 2164.5 2590.0C2165.8 2594.2 2167.4 2603.6 2168.5 2604.0C2169.6 2604.4 2170.6 2594.4 2171.0 2592.5" fill="none" stroke="#0000ff" stroke-width="10.4" stroke-linejoin="round" stroke-linecap="butt"/>
<path d="M225.0 2338.0C225.7 2339.5 227.5 2344.8 229.0 2347.0C230.5 2349.2 232.3 2351.3 234.0 2351.0C235.7 2350.7 237.2 2350.2 239.0 2345.0C240.8 2339.8 242.8 2328.8 245.0 2320.0C247.2 2311.2 250.0 2299.8 252.5 2292.5C255.0 2285.2 257.1 2280.1 260.0 2276.5C262.9 2272.9 266.7 2271.2 270.0 2271.0C273.3 2270.8 276.7 2272.2 280.0 2275.0C283.3 2277.8 286.7 2282.5 290.0 2287.5C293.3 2292.5 296.7 2297.5 300.0 2305.0C303.3 2312.5 306.2 2322.1 310.0 2332.5C313.8 2342.9 318.3 2356.2 322.5 2367.5C326.7 2378.8 330.8 2390.0 335.0 2400.0C339.2 2410.0 343.8 2420.2 347.5 2427.5C351.2 2434.8 354.2 2440.0 357.5 2444.0C360.8 2448.0 364.6 2450.7 367.5 2451.5C370.4 2452.3 372.1 2451.8 375.0 2449.0C377.9 2446.2 381.2 2441.1 385.0 2435.0C388.8 2428.9 393.3 2419.6 397.5 2412.5C401.7 2405.4 405.4 2398.9 410.0 2392.5C414.6 2386.1 419.2 2380.2 425.0 2374.0C430.8 2367.8 438.3 2360.8 445.0 2355.0C451.7 2349.2 457.5 2344.4 465.0 2339.0C472.5 2333.6 481.7 2327.5 490.0 2322.5C498.3 2317.5 505.0 2313.6 515.0 2309.0C525.0 2304.4 539.2 2299.0 550.0 2295.0C560.8 2291.0 570.0 2287.8 580.0 2285.0C590.0 2282.2 600.4 2280.2 610.0 2278.5C619.6 2276.8 628.3 2275.0 637.5 2275.0C646.7 2275.0 657.1 2276.8 665.0 2278.5C672.9 2280.2 679.2 2282.7 685.0 2285.0C690.8 2287.3 695.0 2289.6 700.0 2292.5C705.0 2295.4 709.2 2298.9 715.0 2302.5C720.8 2306.1 728.3 2309.6 735.0 2314.0C741.7 2318.4 749.2 2324.0 755.0 2329.0C760.8 2334.0 765.0 2338.6 770.0 2344.0C775.0 2349.4 780.0 2355.2 785.0 2361.5C790.0 2367.8 795.4 2375.9 800.0 2381.5C804.6 2387.1 808.3 2391.5 812.5 2395.0C816.7 2398.5 820.8 2400.8 825.0 2402.5C829.2 2404.2 833.3 2405.0 837.5 2405.0C841.7 2405.0 845.8 2403.5 850.0 2402.5C854.2 2401.5 858.3 2401.1 862.5 2399.0C866.7 2396.9 870.4 2394.0 875.0 2390.0C879.6 2386.0 885.0 2380.2 890.0 2375.0C895.0 2369.8 900.0 2363.6 905.0 2359.0C910.0 2354.4 915.0 2351.1 920.0 2347.5C925.0 2343.9 930.8 2340.4 935.0 2337.5C939.2 2334.6 940.8 2332.2 945.0 2330.0C949.2 2327.8 956.2 2324.2 960.0 2324.0C963.8 2323.8 965.4 2326.8 968.0 2329.0C970.6 2331.2 973.0 2333.6 975.5 2337.5C978.0 2341.4 980.5 2345.4 983.0 2352.5C985.5 2359.6 988.2 2369.6 990.5 2380.0C992.8 2390.4 994.9 2404.2 997.0 2415.0C999.1 2425.8 1001.2 2438.2 1003.0 2445.0C1004.8 2451.8 1006.8 2453.9 1008.0 2456.0C1009.2 2458.1 1009.5 2458.5 1010.5 2457.5C1011.5 2456.5 1012.6 2456.2 1014.0 2450.0C1015.4 2443.8 1017.1 2431.7 1019.0 2420.0C1020.9 2408.3 1023.2 2391.2 1025.5 2380.0C1027.8 2368.8 1030.1 2360.0 1033.0 2352.5C1035.9 2345.0 1038.8 2340.2 1043.0 2335.0C1047.2 2329.8 1052.6 2324.8 1058.0 2321.5C1063.4 2318.2 1070.1 2315.4 1075.5 2315.0C1080.9 2314.6 1085.5 2316.9 1090.5 2319.0C1095.5 2321.1 1100.1 2324.4 1105.5 2327.5C1110.9 2330.6 1117.6 2335.0 1123.0 2337.5C1128.4 2340.0 1133.0 2342.2 1138.0 2342.5C1143.0 2342.8 1148.4 2339.6 1153.0 2339.0C1157.6 2338.4 1161.8 2337.6 1165.5 2339.0C1169.2 2340.4 1172.4 2343.6 1175.5 2347.5C1178.6 2351.4 1181.2 2357.5 1184.0 2362.5C1186.8 2367.5 1189.7 2373.9 1192.0 2377.5C1194.3 2381.1 1195.8 2384.0 1198.0 2384.0C1200.2 2384.0 1202.6 2381.1 1205.5 2377.5C1208.4 2373.9 1211.8 2367.1 1215.5 2362.5C1219.2 2357.9 1222.6 2353.3 1228.0 2350.0C1233.4 2346.7 1241.3 2344.8 1248.0 2342.5C1254.7 2340.2 1262.6 2338.2 1268.0 2336.0C1273.4 2333.8 1277.2 2330.4 1280.5 2329.0C1283.8 2327.6 1285.5 2326.7 1288.0 2327.5C1290.5 2328.3 1293.2 2331.5 1295.5 2334.0C1297.8 2336.5 1299.9 2340.8 1302.0 2342.5C1304.1 2344.2 1305.3 2344.8 1308.0 2344.0C1310.7 2343.2 1313.0 2340.7 1318.0 2337.5C1323.0 2334.3 1331.3 2328.6 1338.0 2325.0C1344.7 2321.4 1350.5 2318.5 1358.0 2316.0C1365.5 2313.5 1374.7 2312.4 1383.0 2310.0C1391.3 2307.6 1401.8 2303.6 1408.0 2301.5C1414.2 2299.4 1417.2 2297.6 1420.5 2297.5C1423.8 2297.4 1425.1 2301.8 1428.0 2301.0C1430.9 2300.2 1433.8 2295.2 1438.0 2292.5C1442.2 2289.8 1447.2 2286.7 1453.0 2285.0C1458.8 2283.3 1466.3 2283.8 1473.0 2282.5C1479.7 2281.2 1486.5 2278.3 1493.0 2277.5C1499.5 2276.7 1504.7 2278.3 1512.0 2277.5C1519.3 2276.7 1529.9 2272.9 1537.0 2272.5C1544.1 2272.1 1549.9 2275.0 1554.5 2275.0C1559.1 2275.0 1559.9 2272.1 1564.5 2272.5C1569.1 2272.9 1576.2 2276.5 1582.0 2277.5C1587.8 2278.5 1594.9 2276.8 1599.5 2278.5C1604.1 2280.2 1606.2 2285.2 1609.5 2287.5C1612.8 2289.8 1616.2 2289.2 1619.5 2292.5C1622.8 2295.8 1626.2 2302.9 1629.5 2307.5C1632.8 2312.1 1636.2 2315.4 1639.5 2320.0C1642.8 2324.6 1646.2 2331.0 1649.5 2335.0C1652.8 2339.0 1656.6 2341.9 1659.5 2344.0C1662.4 2346.1 1664.1 2347.8 1667.0 2347.5C1669.9 2347.2 1674.3 2342.8 1677.0 2342.5C1679.7 2342.2 1680.9 2344.5 1683.0 2346.0C1685.1 2347.5 1687.0 2351.0 1689.5 2351.5C1692.0 2352.0 1695.1 2349.8 1698.0 2349.0C1700.9 2348.2 1703.8 2348.8 1707.0 2346.5C1710.2 2344.2 1713.7 2339.0 1717.0 2335.0C1720.3 2331.0 1723.2 2325.8 1727.0 2322.5C1730.8 2319.2 1735.3 2317.5 1739.5 2315.0C1743.7 2312.5 1747.4 2308.5 1752.0 2307.5C1756.6 2306.5 1762.0 2307.9 1767.0 2309.0C1772.0 2310.1 1777.4 2311.8 1782.0 2314.0C1786.6 2316.2 1790.8 2318.2 1794.5 2322.5C1798.2 2326.8 1801.2 2333.8 1804.5 2340.0C1807.8 2346.2 1811.6 2354.8 1814.5 2360.0C1817.4 2365.2 1819.8 2369.2 1822.0 2371.5C1824.2 2373.8 1825.5 2374.2 1828.0 2374.0C1830.5 2373.8 1833.8 2372.3 1837.0 2370.0C1840.2 2367.7 1843.2 2362.9 1847.0 2360.0C1850.8 2357.1 1855.8 2352.7 1859.5 2352.5C1863.2 2352.3 1866.2 2356.8 1869.5 2359.0C1872.8 2361.2 1876.2 2364.8 1879.5 2366.0C1882.8 2367.2 1886.2 2367.5 1889.5 2366.5C1892.8 2365.5 1896.2 2362.9 1899.5 2360.0C1902.8 2357.1 1905.8 2352.8 1909.5 2349.0C1913.2 2345.2 1917.4 2340.0 1922.0 2337.5C1926.6 2335.0 1932.4 2335.7 1937.0 2334.0C1941.6 2332.3 1945.8 2329.7 1949.5 2327.5C1953.2 2325.3 1955.8 2323.1 1959.5 2321.0C1963.2 2318.9 1968.2 2317.0 1972.0 2315.0C1975.8 2313.0 1978.7 2310.0 1982.0 2309.0C1985.3 2308.0 1988.2 2310.3 1992.0 2309.0C1995.8 2307.7 2001.2 2302.1 2004.5 2301.0C2007.8 2299.9 2009.9 2303.5 2012.0 2302.5C2014.1 2301.5 2013.7 2297.1 2017.0 2295.0C2020.3 2292.9 2027.4 2290.4 2032.0 2290.0C2036.6 2289.6 2040.5 2293.3 2044.5 2292.5C2048.5 2291.7 2052.7 2285.2 2056.0 2285.0C2059.3 2284.8 2061.4 2289.2 2064.5 2291.0C2067.6 2292.8 2071.6 2292.4 2074.5 2296.0C2077.4 2299.6 2079.5 2307.8 2082.0 2312.5C2084.5 2317.2 2087.0 2320.7 2089.5 2324.0C2092.0 2327.3 2094.5 2330.5 2097.0 2332.5C2099.5 2334.5 2102.4 2338.1 2104.5 2336.0C2106.6 2333.9 2107.6 2326.7 2109.5 2320.0C2111.4 2313.3 2114.1 2298.5 2116.0 2296.0C2117.9 2293.5 2119.3 2301.7 2121.0 2305.0C2122.7 2308.3 2124.3 2318.5 2126.0 2316.0C2127.7 2313.5 2129.2 2299.8 2131.0 2290.0C2132.8 2280.2 2135.2 2260.0 2137.0 2257.5C2138.8 2255.0 2140.3 2269.8 2142.0 2275.0C2143.7 2280.2 2145.2 2288.6 2147.0 2289.0C2148.8 2289.4 2151.2 2281.9 2153.0 2277.5C2154.8 2273.1 2156.2 2264.6 2158.0 2262.5C2159.8 2260.4 2162.0 2267.1 2163.5 2265.0C2165.0 2262.9 2165.8 2257.1 2167.0 2250.0C2168.2 2242.9 2170.3 2227.1 2171.0 2222.5" fill="none" stroke="#008000" stroke-width="10.4" stroke-linejoin="round" stroke-linecap="butt"/>
<path d="M225.1 2007.9C226.3 2008.8 230.1 2012.8 232.4 2013.0C234.7 2013.2 236.9 2011.8 239.0 2009.0C241.1 2006.2 242.8 2000.3 245.0 1996.0C247.2 1991.7 249.8 1986.1 252.5 1983.0C255.2 1979.9 257.7 1978.6 261.0 1977.5C264.3 1976.4 268.5 1976.0 272.5 1976.3C276.5 1976.6 280.8 1977.4 285.0 1979.5C289.2 1981.6 293.3 1984.8 297.5 1989.0C301.7 1993.2 305.8 1999.0 310.0 2005.0C314.2 2011.0 318.3 2017.5 322.5 2025.0C326.7 2032.5 330.8 2042.1 335.0 2050.0C339.2 2057.9 343.8 2066.5 347.5 2072.5C351.2 2078.5 354.6 2082.9 357.5 2086.0C360.4 2089.1 362.5 2090.8 365.0 2091.0C367.5 2091.2 369.6 2090.2 372.5 2087.5C375.4 2084.8 378.8 2080.4 382.5 2075.0C386.2 2069.6 390.4 2061.2 395.0 2055.0C399.6 2048.8 405.0 2042.5 410.0 2037.5C415.0 2032.5 419.2 2029.2 425.0 2025.0C430.8 2020.8 437.5 2016.7 445.0 2012.5C452.5 2008.3 460.8 2003.6 470.0 2000.0C479.2 1996.4 490.8 1993.7 500.0 1991.0C509.2 1988.3 515.0 1986.0 525.0 1984.0C535.0 1982.0 549.2 1980.3 560.0 1979.0C570.8 1977.7 581.7 1976.8 590.0 1976.0C598.3 1975.2 601.7 1974.2 610.0 1974.0C618.3 1973.8 630.8 1974.4 640.0 1975.0C649.2 1975.6 655.8 1976.0 665.0 1977.5C674.2 1979.0 685.8 1981.5 695.0 1984.0C704.2 1986.5 710.8 1989.4 720.0 1992.5C729.2 1995.6 741.7 1999.6 750.0 2002.5C758.3 2005.4 764.2 2007.5 770.0 2010.0C775.8 2012.5 780.0 2013.8 785.0 2017.5C790.0 2021.2 795.0 2028.1 800.0 2032.5C805.0 2036.9 810.4 2041.1 815.0 2044.0C819.6 2046.9 824.0 2048.8 827.5 2050.0C831.0 2051.2 832.2 2051.7 836.0 2051.5C839.8 2051.3 845.6 2050.2 850.0 2049.0C854.4 2047.8 858.3 2046.5 862.5 2044.0C866.7 2041.5 870.0 2038.0 875.0 2034.0C880.0 2030.0 886.7 2024.4 892.5 2020.0C898.3 2015.6 903.8 2011.0 910.0 2007.5C916.2 2004.0 923.3 2000.9 930.0 1999.0C936.7 1997.1 943.7 1996.2 950.0 1996.0C956.3 1995.8 962.9 1996.0 968.0 1997.5C973.1 1999.0 977.2 2002.1 980.5 2005.0C983.8 2007.9 985.5 2009.2 988.0 2015.0C990.5 2020.8 993.2 2030.0 995.5 2040.0C997.8 2050.0 1000.1 2066.4 1002.0 2075.0C1003.9 2083.6 1005.8 2088.4 1007.0 2091.5C1008.2 2094.6 1008.5 2094.2 1009.5 2093.5C1010.5 2092.8 1011.6 2093.9 1013.0 2087.5C1014.4 2081.1 1015.9 2066.2 1018.0 2055.0C1020.1 2043.8 1022.6 2028.8 1025.5 2020.0C1028.4 2011.2 1031.8 2006.8 1035.5 2002.5C1039.2 1998.2 1043.4 1996.1 1048.0 1994.0C1052.6 1991.9 1057.6 1990.8 1063.0 1990.0C1068.4 1989.2 1074.7 1988.6 1080.5 1989.0C1086.3 1989.4 1091.8 1990.7 1098.0 1992.5C1104.2 1994.3 1112.2 1998.2 1118.0 2000.0C1123.8 2001.8 1126.8 2003.2 1133.0 2003.5C1139.2 2003.8 1149.2 2000.8 1155.5 2001.5C1161.8 2002.2 1166.3 2004.8 1170.5 2007.5C1174.7 2010.2 1177.2 2013.9 1180.5 2017.5C1183.8 2021.1 1187.6 2026.7 1190.5 2029.0C1193.4 2031.3 1195.2 2032.3 1198.0 2031.5C1200.8 2030.7 1203.7 2027.6 1207.0 2024.0C1210.3 2020.4 1214.1 2013.8 1218.0 2010.0C1221.9 2006.2 1225.5 2003.6 1230.5 2001.5C1235.5 1999.4 1241.8 1999.2 1248.0 1997.5C1254.2 1995.8 1262.2 1992.7 1268.0 1991.0C1273.8 1989.3 1278.8 1987.0 1283.0 1987.5C1287.2 1988.0 1289.7 1992.3 1293.0 1994.0C1296.3 1995.7 1298.8 1998.2 1303.0 1997.5C1307.2 1996.8 1311.3 1992.7 1318.0 1990.0C1324.7 1987.3 1334.7 1984.0 1343.0 1981.5C1351.3 1979.0 1361.3 1976.5 1368.0 1975.0C1374.7 1973.5 1378.0 1973.8 1383.0 1972.5C1388.0 1971.2 1391.8 1968.5 1398.0 1967.5C1404.2 1966.5 1415.7 1967.5 1420.5 1966.5C1425.3 1965.5 1424.8 1961.1 1427.0 1961.5C1429.2 1961.9 1430.5 1968.0 1434.0 1969.0C1437.5 1970.0 1443.6 1967.3 1448.0 1967.5C1452.4 1967.7 1456.3 1968.1 1460.5 1970.0C1464.7 1971.9 1467.6 1975.2 1473.0 1979.0C1478.4 1982.8 1487.2 1988.3 1493.0 1992.5C1498.8 1996.7 1503.4 2000.9 1508.0 2004.0C1512.6 2007.1 1516.8 2009.3 1520.5 2011.0C1524.2 2012.7 1527.2 2014.2 1530.5 2014.0C1533.8 2013.8 1536.3 2010.0 1540.5 2010.0C1544.7 2010.0 1550.1 2014.0 1555.5 2014.0C1560.9 2014.0 1568.0 2011.2 1573.0 2010.0C1578.0 2008.8 1581.8 2007.8 1585.5 2006.5C1589.2 2005.2 1591.3 2001.9 1595.5 2002.5C1599.7 2003.1 1606.8 2009.0 1610.5 2010.0C1614.2 2011.0 1613.8 2008.1 1618.0 2008.5C1622.2 2008.9 1630.5 2010.2 1635.5 2012.5C1640.5 2014.8 1643.8 2020.0 1648.0 2022.5C1652.2 2025.0 1656.3 2026.8 1660.5 2027.5C1664.7 2028.2 1669.0 2026.9 1673.0 2026.5C1677.0 2026.1 1680.3 2024.6 1684.5 2025.0C1688.7 2025.4 1694.2 2029.8 1698.0 2029.0C1701.8 2028.2 1704.2 2022.6 1707.0 2020.0C1709.8 2017.4 1710.3 2015.3 1714.5 2013.5C1718.7 2011.7 1725.8 2010.2 1732.0 2009.0C1738.2 2007.8 1745.8 2006.2 1752.0 2006.0C1758.2 2005.8 1764.1 2006.2 1769.5 2007.5C1774.9 2008.8 1779.5 2011.8 1784.5 2014.0C1789.5 2016.2 1795.3 2017.9 1799.5 2021.0C1803.7 2024.1 1806.6 2028.9 1809.5 2032.5C1812.4 2036.1 1814.1 2040.2 1817.0 2042.5C1819.9 2044.8 1823.7 2046.5 1827.0 2046.5C1830.3 2046.5 1833.2 2044.6 1837.0 2042.5C1840.8 2040.4 1845.8 2035.7 1849.5 2034.0C1853.2 2032.3 1855.8 2031.8 1859.5 2032.5C1863.2 2033.2 1867.8 2037.4 1872.0 2038.5C1876.2 2039.6 1880.3 2039.6 1884.5 2039.0C1888.7 2038.4 1892.4 2036.9 1897.0 2035.0C1901.6 2033.1 1907.0 2030.7 1912.0 2027.5C1917.0 2024.3 1922.8 2017.9 1927.0 2016.0C1931.2 2014.1 1932.8 2016.8 1937.0 2016.0C1941.2 2015.2 1947.0 2012.6 1952.0 2011.0C1957.0 2009.4 1962.0 2008.3 1967.0 2006.5C1972.0 2004.7 1978.0 2000.7 1982.0 2000.0C1986.0 1999.3 1987.8 2002.9 1991.0 2002.5C1994.2 2002.1 1997.5 1997.9 2001.0 1997.5C2004.5 1997.1 2007.0 2000.8 2012.0 2000.0C2017.0 1999.2 2026.0 1993.2 2031.0 1992.5C2036.0 1991.8 2038.1 1995.3 2042.0 1996.0C2045.9 1996.7 2050.3 1995.4 2054.5 1996.5C2058.7 1997.6 2063.7 2001.7 2067.0 2002.5C2070.3 2003.3 2072.0 2000.1 2074.5 2001.5C2077.0 2002.9 2078.7 2008.9 2082.0 2011.0C2085.3 2013.1 2091.2 2014.3 2094.5 2014.0C2097.8 2013.7 2099.9 2010.9 2102.0 2009.0C2104.1 2007.1 2104.9 2004.0 2107.0 2002.5C2109.1 2001.0 2112.4 2002.5 2114.5 2000.0C2116.6 1997.5 2117.8 1991.5 2119.5 1987.5C2121.2 1983.5 2122.8 1977.8 2124.5 1976.0C2126.2 1974.2 2127.6 1974.2 2129.5 1976.5C2131.4 1978.8 2133.8 1986.1 2136.0 1990.0C2138.2 1993.9 2140.8 1999.2 2143.0 2000.0C2145.2 2000.8 2147.2 1997.9 2149.5 1995.0C2151.8 1992.1 2154.5 1985.8 2157.0 1982.5C2159.5 1979.2 2162.7 1978.8 2164.5 1975.0C2166.3 1971.2 2166.9 1965.4 2168.0 1960.0C2169.1 1954.6 2170.5 1945.4 2171.0 1942.5" fill="none" stroke="#800080" stroke-width="10.4" stroke-linejoin="round" stroke-linecap="butt"/>
<g fill="#000"><rect x="2171.1" y="1887.5" width="10.6" height="1433.2"/></g>
<g style="font-family:'Liberation Sans',sans-serif;font-weight:700" fill="#000">
<g transform="translate(143.27 3420.20) scale(1 1.04)"><text font-size="74.20">1100</text><rect x="3.71" y="-9.28" width="13.39" height="11.13" fill="#fff"/><rect x="27.71" y="-9.28" width="12.61" height="11.13" fill="#fff"/><rect x="44.98" y="-9.28" width="13.39" height="11.13" fill="#fff"/><rect x="68.98" y="-9.28" width="12.61" height="11.13" fill="#fff"/></g>
<g transform="translate(421.92 3420.20) scale(1 1.04)"><text font-size="74.20">1000</text><rect x="3.71" y="-9.28" width="13.39" height="11.13" fill="#fff"/><rect x="27.71" y="-9.28" width="12.61" height="11.13" fill="#fff"/></g>
<g transform="translate(721.21 3420.20) scale(1 1.04)"><text font-size="74.20">900</text></g>
<g transform="translate(999.87 3420.20) scale(1 1.04)"><text font-size="74.20">800</text></g>
<g transform="translate(1278.53 3420.20) scale(1 1.04)"><text font-size="74.20">700</text></g>
<g transform="translate(1557.19 3420.20) scale(1 1.04)"><text font-size="74.20">600</text></g>
<g transform="translate(1835.84 3420.20) scale(1 1.04)"><text font-size="74.20">500</text></g>
<g transform="translate(2114.50 3420.20) scale(1 1.04)"><text font-size="74.20">400</text></g>
<g transform="translate(733.10 3531.00) scale(1 1.02)"><text font-size="99.07">Wavenumber / cm</text></g>
<g transform="translate(1583.00 3505.90) scale(1 1.041)"><text font-size="99.00">-1</text><rect x="37.92" y="-12.38" width="17.87" height="14.85" fill="#fff"/><rect x="69.94" y="-12.38" width="16.83" height="14.85" fill="#fff"/></g>
<g transform="translate(159.10 3076.00) rotate(-90) scale(1 1.02)"><text font-size="98.31">Transmittance / a. u.</text></g>
<g transform="translate(31.27 1979.50)"><text font-size="129.20">(b)</text></g>
<g transform="translate(237.35 1965.05) scale(1 1.03)"><text font-size="74.60">25 V</text></g>
<g transform="translate(246.75 2248.75) scale(1 1.03)"><text font-size="74.60">20 V</text></g>
<g transform="translate(250.75 2584.90) scale(1 1.03)"><text font-size="74.60">15 V</text><rect x="3.73" y="-9.32" width="13.47" height="11.19" fill="#fff"/><rect x="27.86" y="-9.32" width="12.68" height="11.19" fill="#fff"/></g>
<g transform="translate(263.75 2901.00) scale(1 1.03)"><text font-size="74.60">10 V</text><rect x="3.73" y="-9.32" width="13.47" height="11.19" fill="#fff"/><rect x="27.86" y="-9.32" width="12.68" height="11.19" fill="#fff"/></g>
<g transform="translate(284.34 3091.90) scale(1 1.03)"><text font-size="74.60">5 V</text></g>
<g transform="translate(1086.30 2303.58) rotate(-90) scale(1 1.05)"><text font-size="38.59">O-Cu-O bending</text></g>
<g transform="translate(1488.40 2284.68) rotate(-90) scale(1 1.05)"><text font-size="38.52">Cu(I)-O</text></g>
<g transform="translate(1537.20 2270.89) rotate(-90) scale(1 1.05)"><text font-size="37.85">Stretching</text></g>
<g transform="translate(1596.25 2262.08) rotate(-90) scale(1 1.05)"><text font-size="38.52">Cu(II)-O</text></g>
<g transform="translate(1645.20 2261.61) rotate(-90) scale(1 1.05)"><text font-size="38.36">Stretching</text></g>
<g transform="translate(1813.30 2269.07) rotate(-90) scale(1 1.05)"><text font-size="38.19">Cu(II)-O</text></g>
<g transform="translate(1862.50 2268.60) rotate(-90) scale(1 1.05)"><text font-size="38.19">Stretching</text></g>
<g transform="translate(2079.10 2236.26) rotate(-90) scale(1 1.05)"><text font-size="38.02">Cu(II)-O</text></g>
<g transform="translate(2128.30 2237.11) rotate(-90) scale(1 1.05)"><text font-size="38.46">Stretching</text></g>
</g>
<line x1="1525.6" y1="2056.6" x2="1565" y2="2038" stroke="#000" stroke-width="6.8"/>
<polygon points="1595.6,2023.3 1559.4,2030.9 1566.9,2046.9" fill="#000" stroke="#000" stroke-width="5.8" stroke-linejoin="round"/>
</svg>
</body></html>
